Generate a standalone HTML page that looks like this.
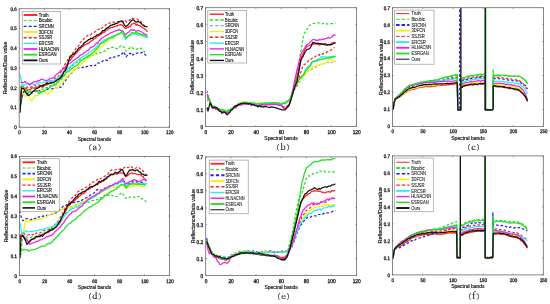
<!DOCTYPE html>
<html><head><meta charset="utf-8"><style>
html,body{margin:0;padding:0;background:#fff;width:550px;height:304px;overflow:hidden;}
svg{display:block;filter:blur(0.35px);font-family:"Liberation Sans",Arial,sans-serif;}
</style></head><body>
<svg width="550" height="304" viewBox="0 0 550 304">
<rect width="550" height="304" fill="#fff"/>
<clipPath id="c0"><rect x="19.2" y="8.75" width="150.2" height="118.5"/></clipPath>
<g clip-path="url(#c0)" fill="none" stroke-linejoin="round" stroke-width="1.25">
<path d="M20.3 100 L21.2 86.3 L22.6 86.08 L24 88 L25.12 88.85 L26.25 88.07 L27.38 90.36 L28.5 90 L29.62 89.54 L30.75 89.76 L31.88 87.93 L33 88 L34.2 88.23 L35.4 87.08 L36.6 87.09 L37.8 87.16 L39 86.3 L40.25 85.97 L41.5 86.99 L42.75 87.26 L44 86 L45.4 84.18 L46.8 85.14 L48.2 83.94 L49.6 83.2 L50.95 82.67 L52.3 82.2 L53.65 81.76 L55 81 L56.25 81.05 L57.5 79.37 L58.75 79.42 L60 78 L61.33 75.79 L62.67 72.9 L64 71 L65.25 68.19 L66.5 65.05 L67.75 63.34 L69 61 L70.2 60.2 L71.4 58.9 L72.6 56.73 L73.8 55.9 L75 54 L76.17 53.26 L77.33 52.25 L78.5 49.73 L79.67 49.57 L80.83 47.9 L82 47 L83.33 46.22 L84.67 44.8 L86 44.53 L87.33 43.48 L88.67 43.44 L90 42 L91.27 40.79 L92.53 40.49 L93.8 38.97 L95.07 38.56 L96.33 37.29 L97.6 35.85 L98.87 35.78 L100.13 34.83 L101.4 34 L102.59 32.88 L103.77 32.63 L104.96 31.73 L106.14 29.82 L107.33 29.92 L108.51 28.88 L109.7 28 L110.87 27.55 L112.04 27.57 L113.21 27.09 L114.39 26.37 L115.56 26.05 L116.73 26.13 L117.9 25.4 L119.2 24.98 L120.5 24.56 L121.8 24.8 L123.13 25.93 L124.47 27.82 L125.8 28.7 L126.95 27.66 L128.1 27.5 L129.25 26.46 L130.4 26.62 L131.55 24.18 L132.7 23.8 L133.85 23.05 L135 23.49 L136.15 25.28 L137.3 24.04 L138.45 25.62 L139.6 25.5 L140.9 26.1 L142.2 27.56 L143.5 28 L144.83 28.98 L146.17 30.4 L147.5 31.7" stroke="#ff2020"/>
<path d="M21.2 104.2 L23.3 91.6 L24.48 91.48 L25.65 91.91 L26.82 91.91 L28 92 L29.25 91.44 L30.5 91.69 L31.75 90.5 L33 91 L34.2 90.49 L35.4 91.14 L36.6 90.71 L37.8 90.68 L39 90.5 L40.2 89.74 L41.4 89.44 L42.6 89.39 L43.8 88.2 L45 88 L46.25 87.68 L47.5 87.56 L48.75 85.76 L50 86 L51.25 85.25 L52.5 85.21 L53.75 84.43 L55 84 L56.25 82.97 L57.5 82.55 L58.75 82.05 L60 81 L61.25 79.93 L62.5 77.42 L63.75 76.13 L65 75 L66.17 72.69 L67.35 71.13 L68.53 69.15 L69.7 68 L70.92 65.83 L72.15 65.62 L73.38 65.06 L74.6 63.5 L75.85 63.01 L77.1 62.43 L78.35 61.69 L79.6 59.7 L80.95 59.22 L82.3 59.13 L83.65 58.68 L85 58 L86.25 58.31 L87.5 57.38 L88.75 56.54 L90 56.4 L91.25 55.87 L92.5 54.89 L93.75 55.14 L95 54 L96.15 53.29 L97.3 53.69 L98.45 52.94 L99.6 52.42 L100.75 52.97 L101.9 52.3 L103.05 52.02 L104.2 51.22 L105.35 50.42 L106.5 49.4 L107.66 48.64 L108.82 48.58 L109.98 48.09 L111.14 47.78 L112.3 47.1 L113.45 47.69 L114.6 48.4 L115.75 48.47 L116.9 48.8 L118.05 47.35 L119.2 47.29 L120.35 45.8 L121.5 45.4 L122.63 46.03 L123.77 47.01 L124.9 47.7 L126.1 51.1 L127.25 50.1 L128.4 49.4 L129.55 48.3 L130.7 47.1 L131.84 47.99 L132.98 47.91 L134.12 49.01 L135.26 49 L136.4 49.4 L137.55 48.8 L138.7 47.85 L139.85 48.26 L141 48.2 L142.15 49.55 L143.3 50.07 L144.45 51.98 L145.6 52.8" stroke="#20e020" stroke-dasharray="2.6 2"/>
<path d="M20.1 106.3 L23.3 91.6 L24.6 92.21 L25.9 92.31 L27.2 93.46 L28.5 93.6 L29.8 93.37 L31.1 92.46 L32.4 92.73 L33.7 91.68 L35 91.6 L36.33 91.06 L37.67 90.68 L39 90.5 L40.5 91.52 L42 91.6 L43.24 91.59 L44.48 91.1 L45.72 89.71 L46.96 90.05 L48.2 88.9 L49.47 88.66 L50.73 88.73 L52 88.3 L53.35 88.64 L54.7 88.5 L55.9 87.39 L57.1 87.69 L58.3 88.33 L59.5 87.09 L60.7 87.4 L61.88 86.35 L63.06 84.3 L64.24 81.97 L65.42 80.57 L66.6 79.5 L67.9 77.62 L69.2 75 L70.5 73.6 L71.83 73.14 L73.17 71.17 L74.5 69.6 L75.68 68.75 L76.86 68.87 L78.04 67.69 L79.22 67.77 L80.4 67.6 L81.58 67.77 L82.76 67.19 L83.94 67.44 L85.12 67.68 L86.3 66.6 L87.62 66.45 L88.93 66.32 L90.25 65.6 L91.57 65.53 L92.88 66.23 L94.2 65.5 L95.48 65.42 L96.77 63.2 L98.05 63.19 L99.33 62.97 L100.62 62.51 L101.9 62 L103.05 60.6 L104.2 61.05 L105.35 60.18 L106.5 60.3 L107.66 60.32 L108.82 58.83 L109.98 57.81 L111.14 57.85 L112.3 56.9 L113.45 57.42 L114.6 56.95 L115.75 56.39 L116.9 56.31 L118.05 55.78 L119.2 55.7 L120.35 54.76 L121.5 54.11 L122.65 53.36 L123.8 51.7 L124.95 54.19 L126.1 56.9 L127.23 55.4 L128.37 55.15 L129.5 53.4 L130.66 53.81 L131.82 52.94 L132.98 55.05 L134.14 54.13 L135.3 54 L136.43 53.02 L137.57 53.07 L138.7 52.8 L139.87 52.9 L141.03 52.83 L142.2 52.3 L143.35 53.1 L144.5 54.06 L145.65 55.21 L146.8 55.7" stroke="#2020ff" stroke-dasharray="2.6 2"/>
<path d="M20.5 88 L21.2 91.6 L22.6 93.7 L24 94.22 L25.4 96.8 L26.7 95.43 L28 95.5 L29.23 97.5 L30.47 99.2 L31.7 101 L32.8 99.13 L33.9 97.93 L35 95.5 L36 95.43 L37 95.8 L38.5 94.74 L40 93 L41.45 91.85 L42.9 90.3 L44.23 90.62 L45.55 92.13 L46.88 93.63 L48.2 93.6 L49.47 92.84 L50.73 91.04 L52 91 L53.35 89.35 L54.7 88.4 L56.13 87.76 L57.57 87.13 L59 86 L60.4 83.88 L61.8 81.98 L63.2 81.79 L64.6 79.5 L65.85 77.53 L67.1 76.62 L68.35 76.25 L69.6 74.5 L70.82 73.37 L72.05 72.24 L73.28 70.97 L74.5 69.6 L75.72 68.2 L76.95 68.95 L78.18 67.42 L79.4 65.5 L80.62 64.4 L81.85 63.45 L83.08 62.17 L84.3 61.7 L85.53 60.36 L86.75 59.46 L87.97 58.52 L89.2 57.5 L90.45 57.46 L91.7 55.03 L92.95 54.9 L94.2 53.8 L95.4 52.88 L96.6 51.43 L97.8 49.7 L99 49.05 L100.2 47 L101.4 46.5 L102.68 45.82 L103.95 44.49 L105.22 42.22 L106.5 41.9 L107.67 41.42 L108.83 40.36 L110 39.5 L111.33 38.76 L112.67 38.69 L114 37.54 L115.33 36.34 L116.67 35.07 L118 35 L119.27 34.7 L120.53 33.67 L121.8 33.5 L123.13 34.72 L124.47 36.01 L125.8 37.6 L126.98 37.16 L128.16 35.34 L129.34 35.42 L130.52 34.86 L131.7 33.7 L132.89 33.86 L134.07 33.66 L135.26 33.86 L136.44 34.44 L137.63 34.4 L138.81 34.78 L140 34.5 L141.25 34.87 L142.5 36.11 L143.75 35.68 L145 36.55 L146.25 37.01 L147.5 37.6" stroke="#f2f200"/>
<path d="M20.3 95 L22.2 85.3 L23.47 85.32 L24.73 86.4 L26 87 L27.15 87.11 L28.3 87.35 L29.45 87.33 L30.6 87.4 L31.73 86.93 L32.87 86.87 L34 85 L35.23 85.55 L36.45 85.13 L37.67 84.99 L38.9 85 L40.45 85.47 L42 86.3 L43.24 84.75 L44.48 84.15 L45.72 83.37 L46.96 82.49 L48.2 81.7 L49.47 81.44 L50.73 81.17 L52 80.4 L53.2 79.36 L54.4 78.61 L55.6 78.2 L56.8 78.02 L58 77 L59.33 75.09 L60.67 72.24 L62 70 L63.1 67.96 L64.2 65 L65.3 64 L66.47 61.67 L67.65 60.14 L68.83 57.67 L70 56 L71.25 55.18 L72.5 53.67 L73.75 51.52 L75 50 L76.15 48.16 L77.3 47.61 L78.45 46.12 L79.6 44 L80.95 41.74 L82.3 41.43 L83.65 38.85 L85 37.5 L86.33 36.55 L87.67 35.41 L89 34.88 L90.33 35.02 L91.67 33.31 L93 33 L94.2 32.3 L95.4 31.66 L96.6 31.14 L97.8 29.36 L99 29.38 L100.2 29.86 L101.4 28.4 L102.63 27.52 L103.86 26.84 L105.09 25.44 L106.31 24.41 L107.54 24.57 L108.77 23.5 L110 22.8 L111.2 23 L112.4 22.04 L113.6 22.19 L114.8 21.86 L116 21.5 L117.16 21.8 L118.32 21.47 L119.48 21.82 L120.64 21.75 L121.8 21.8 L122.9 21.45 L124 20 L125.4 20.8 L126.8 22 L128.03 20.92 L129.25 20.44 L130.47 19.28 L131.7 17.9 L133.02 18.6 L134.33 18.81 L135.65 19.18 L136.97 19.12 L138.28 19.82 L139.6 19.8 L140.9 21.65 L142.2 23.32 L143.5 24.8 L145 26.26 L146.5 27.7" stroke="#ff2020" stroke-dasharray="2.6 2"/>
<path d="M20.1 74.7 L22.2 85.3 L23.63 85.76 L25.07 84.48 L26.5 84.3 L27.67 83.52 L28.83 84.02 L30 83.8 L31.25 84.42 L32.5 83.29 L33.75 84.27 L35 84.4 L36.33 84.05 L37.67 83.39 L39 82 L40.5 82.66 L42 83 L43.24 82.39 L44.48 81.98 L45.72 81.96 L46.96 81.91 L48.2 81.7 L49.5 80.66 L50.8 80.95 L52.1 80.89 L53.4 81.23 L54.7 80.5 L55.93 79.18 L57.15 78.13 L58.38 77.02 L59.6 76 L60.85 74.56 L62.1 73.94 L63.35 72.23 L64.6 71.6 L65.85 69.58 L67.1 69.72 L68.35 68.05 L69.6 67 L70.82 66.28 L72.05 65.1 L73.28 63.61 L74.5 62.7 L75.72 61.99 L76.95 60.53 L78.18 59.97 L79.4 59 L80.62 57.6 L81.85 57.68 L83.08 56.05 L84.3 55.8 L85.53 55.67 L86.75 54.25 L87.97 53.82 L89.2 52.3 L90.45 51.44 L91.7 50.46 L92.95 49.82 L94.2 48.9 L95.4 48.21 L96.6 46.73 L97.8 44.85 L99 44.27 L100.2 43.59 L101.4 42.3 L102.63 41.32 L103.86 39.92 L105.09 39.94 L106.31 38.77 L107.54 38.99 L108.77 38.33 L110 37.6 L111.32 36.46 L112.63 36.21 L113.95 36.12 L115.27 35.55 L116.58 35.06 L117.9 34.5 L119.12 34.01 L120.35 33.41 L121.58 32.5 L122.8 32.7 L124.15 36.68 L125.5 39.6 L126.75 37.94 L128 36 L129.18 35.85 L130.35 35.17 L131.52 34.4 L132.7 33.7 L133.92 33.94 L135.13 34.05 L136.35 33.87 L137.57 34.62 L138.78 35.43 L140 35 L141.25 35.17 L142.5 35.37 L143.75 36.45 L145 37.08 L146.25 37.2 L147.5 37.6" stroke="#20f0f0"/>
<path d="M20.5 82 L21.6 82.47 L22.7 82.68 L23.8 82.7 L24.9 81.5 L25.95 82.49 L27 83 L28.25 83.64 L29.5 85 L30.75 83.72 L32 83 L33.1 82.25 L34.2 81.83 L35.3 81.5 L36.65 81.83 L38 80.5 L39.5 80.59 L41 79.2 L42.5 79.26 L44 80 L45.4 80.39 L46.8 80.4 L47.87 80.24 L48.93 79.42 L50 78.5 L51.17 78.2 L52.35 78.25 L53.53 77.52 L54.7 76.5 L55.93 74.93 L57.15 73.92 L58.38 73.23 L59.6 72 L60.85 70.44 L62.1 69.98 L63.35 68.72 L64.6 67.6 L65.85 66.67 L67.1 65.79 L68.35 63.85 L69.6 63.5 L70.82 62.82 L72.05 61.65 L73.28 60.8 L74.5 59.7 L75.72 58.91 L76.95 58.15 L78.18 57.26 L79.4 56 L80.62 54.99 L81.85 54.34 L83.08 53.71 L84.3 52.8 L85.53 52.28 L86.75 50.58 L87.97 50.48 L89.2 49.3 L90.45 47.39 L91.7 47.33 L92.95 46.58 L94.2 45.9 L95.4 44.33 L96.6 42.81 L97.8 43.19 L99 40.96 L100.2 40.11 L101.4 38.3 L102.59 37.63 L103.77 37.06 L104.96 36.26 L106.14 35.27 L107.33 35.14 L108.51 34.69 L109.7 33.4 L110.87 32.74 L112.04 32.35 L113.21 31.89 L114.39 31.19 L115.56 30.91 L116.73 30.73 L117.9 30.1 L119.2 29.42 L120.5 30.57 L121.8 30.7 L123.13 31.42 L124.47 33.81 L125.8 34.6 L126.98 33.19 L128.16 32.28 L129.34 31.94 L130.52 30.06 L131.7 29.7 L133.02 30.36 L134.33 29.83 L135.65 31.14 L136.97 31.23 L138.28 30.27 L139.6 31 L140.92 31.53 L142.23 32.29 L143.55 33.18 L144.87 34.17 L146.18 34.49 L147.5 35.6" stroke="#f020f0"/>
<path d="M20.5 86 L21.75 86.59 L23 87 L24.38 87.87 L25.75 90.43 L27.12 91.46 L28.5 92.6 L29.8 91.74 L31.1 92.24 L32.4 91.7 L33.7 90.65 L35 90.9 L36.33 91.36 L37.67 91.86 L39 93.7 L40.5 92.21 L42 92 L43.24 91.27 L44.48 90.57 L45.72 89.83 L46.96 88.25 L48.2 88.3 L49.5 87.89 L50.8 86.55 L52.1 85.98 L53.4 85.57 L54.7 85.4 L55.93 85.12 L57.15 82.18 L58.38 81.22 L59.6 80 L60.85 78.36 L62.1 77.38 L63.35 76.13 L64.6 74.5 L65.85 72.8 L67.1 72.18 L68.35 71.63 L69.6 70.5 L70.82 69.18 L72.05 68.48 L73.28 67.22 L74.5 66.6 L75.72 66.04 L76.95 65.3 L78.18 64.36 L79.4 62.5 L80.62 61.12 L81.85 60.33 L83.08 59.44 L84.3 58.8 L85.53 58.2 L86.75 56.91 L87.97 56.04 L89.2 55.3 L90.45 55.09 L91.7 53.5 L92.95 52.54 L94.2 51.8 L95.4 50.21 L96.6 48.64 L97.8 47.73 L99 45.84 L100.2 44.07 L101.4 43.25 L102.63 42.91 L103.86 41.94 L105.09 40.87 L106.31 40.6 L107.54 39.45 L108.77 38.2 L110 38 L111.32 37.83 L112.63 37.75 L113.95 35.81 L115.27 35.23 L116.58 34.48 L117.9 34.2 L119.12 33.49 L120.35 33.2 L121.58 31.83 L122.8 30.7 L124.3 34.57 L125.8 37.6 L126.98 36.93 L128.16 35.81 L129.34 34.87 L130.52 33.9 L131.7 32.7 L132.89 32.85 L134.07 33.12 L135.26 32.64 L136.44 32.62 L137.63 33.26 L138.81 33.23 L140 33.5 L141.25 34.47 L142.5 34.5 L143.75 34.96 L145 35.61 L146.25 36.18 L147.5 36.6" stroke="#20e020"/>
<path d="M20.1 112.6 L21.6 88 L22.55 88.59 L23.5 88.5 L24.75 90.55 L26 93 L27.2 94.69 L28.4 95.5 L29.83 94.63 L31.27 93.46 L32.7 91.6 L33.85 90.96 L35 89.6 L36.32 88.46 L37.64 88.22 L38.96 87.56 L40.28 86.15 L41.6 85.7 L42.92 85.94 L44.24 84.95 L45.56 84.48 L46.88 83.04 L48.2 83.7 L49.5 83.04 L50.8 83.12 L52.1 82.87 L53.4 82.78 L54.7 81.7 L56.02 80.64 L57.34 79.69 L58.66 79.05 L59.98 78.13 L61.3 77.1 L62.62 74.93 L63.95 71.83 L65.27 70.79 L66.6 67.9 L68.15 63.1 L69.7 57.75 L70.88 56.67 L72.06 54.93 L73.24 54.01 L74.42 54.1 L75.6 51.8 L76.8 51.05 L78 48.97 L79.2 47.9 L80.4 47.31 L81.6 45.9 L82.73 44.88 L83.87 43.12 L85 42.4 L86.17 41.52 L87.34 40.81 L88.51 39.73 L89.69 39.5 L90.86 38.17 L92.03 38.72 L93.2 37.5 L94.37 36.78 L95.54 36.24 L96.71 35.18 L97.89 34.71 L99.06 34.22 L100.23 33.49 L101.4 32.6 L102.59 30.51 L103.77 31.02 L104.96 29.76 L106.14 28.35 L107.33 27.91 L108.51 27.39 L109.7 26 L110.87 25.14 L112.04 25.13 L113.21 24.33 L114.39 24.44 L115.56 23.32 L116.73 23.44 L117.9 22.7 L119.2 21.77 L120.5 21.41 L121.8 20.8 L123.13 22.26 L124.47 25.11 L125.8 26.7 L126.95 25.8 L128.1 24.73 L129.25 23.33 L130.4 21.9 L131.55 20.58 L132.7 19.8 L133.85 20.04 L135 21.34 L136.15 22.22 L137.3 21.4 L138.45 21.67 L139.6 22.2 L140.9 23.15 L142.2 24.64 L143.5 25.7 L144.83 26.34 L146.17 26.59 L147.5 26.7" stroke="#111111"/>
</g>
<rect x="19.2" y="8.75" width="150.2" height="118.5" fill="none" stroke="#6a6a6a" stroke-width="0.8"/>
<path d="M19.2 127.25v-1.3M19.2 8.75v1.3M44.23 127.25v-1.3M44.23 8.75v1.3M69.27 127.25v-1.3M69.27 8.75v1.3M94.3 127.25v-1.3M94.3 8.75v1.3M119.33 127.25v-1.3M119.33 8.75v1.3M144.37 127.25v-1.3M144.37 8.75v1.3M169.4 127.25v-1.3M169.4 8.75v1.3M19.2 127.25h1.3M169.4 127.25h-1.3M19.2 107.5h1.3M169.4 107.5h-1.3M19.2 87.75h1.3M169.4 87.75h-1.3M19.2 68h1.3M169.4 68h-1.3M19.2 48.25h1.3M169.4 48.25h-1.3M19.2 28.5h1.3M169.4 28.5h-1.3M19.2 8.75h1.3M169.4 8.75h-1.3" stroke="#6a6a6a" stroke-width="0.6" fill="none"/>
<g fill="#222" stroke="#222" text-rendering="geometricPrecision"><text transform="translate(19.5 134.21) scale(0.0967 0.1112)" font-size="46" text-anchor="middle" stroke="#111" stroke-width="2.5">0</text><text transform="translate(44.53 134.21) scale(0.0967 0.1112)" font-size="46" text-anchor="middle" stroke="#111" stroke-width="2.5">20</text><text transform="translate(69.57 134.21) scale(0.0967 0.1112)" font-size="46" text-anchor="middle" stroke="#111" stroke-width="2.5">40</text><text transform="translate(94.6 134.21) scale(0.0967 0.1112)" font-size="46" text-anchor="middle" stroke="#111" stroke-width="2.5">60</text><text transform="translate(119.63 134.21) scale(0.0967 0.1112)" font-size="46" text-anchor="middle" stroke="#111" stroke-width="2.5">80</text><text transform="translate(144.67 134.21) scale(0.0967 0.1112)" font-size="46" text-anchor="middle" stroke="#111" stroke-width="2.5">100</text><text transform="translate(169.7 134.21) scale(0.0967 0.1112)" font-size="46" text-anchor="middle" stroke="#111" stroke-width="2.5">120</text><text transform="translate(16.7 129.15) scale(0.0967 0.1112)" font-size="46" text-anchor="end" stroke="#111" stroke-width="2.5">0</text><text transform="translate(16.7 109.4) scale(0.0967 0.1112)" font-size="46" text-anchor="end" stroke="#111" stroke-width="2.5">0.1</text><text transform="translate(16.7 89.65) scale(0.0967 0.1112)" font-size="46" text-anchor="end" stroke="#111" stroke-width="2.5">0.2</text><text transform="translate(16.7 69.9) scale(0.0967 0.1112)" font-size="46" text-anchor="end" stroke="#111" stroke-width="2.5">0.3</text><text transform="translate(16.7 50.15) scale(0.0967 0.1112)" font-size="46" text-anchor="end" stroke="#111" stroke-width="2.5">0.4</text><text transform="translate(16.7 30.4) scale(0.0967 0.1112)" font-size="46" text-anchor="end" stroke="#111" stroke-width="2.5">0.5</text><text transform="translate(16.7 10.65) scale(0.0967 0.1112)" font-size="46" text-anchor="end" stroke="#111" stroke-width="2.5">0.6</text></g>
<text transform="translate(94.3 140.75) scale(0.1087 0.1087)" font-size="46" text-anchor="middle" stroke="#222" stroke-width="1.8" fill="#222">Spectral bands</text>
<text transform="translate(7.4 68) rotate(-90) scale(0.1109 0.1109)" font-size="46" text-anchor="middle" stroke="#222" stroke-width="1.8" fill="#222">Reflectance/Data value</text>
<rect x="22.2" y="11.5" width="38.5" height="52.5" fill="#fff" stroke="#8a8a8a" stroke-width="0.6"/>
<g fill="#111" stroke="#111" stroke-width="1.4"><path d="M23.6 15H37.4" stroke="#ff2020" stroke-width="1.9"/><text transform="translate(38.8 16.65) scale(0.0920 0.1000)" font-size="46">Truth</text><path d="M23.6 20.67H37.4" stroke="#20e020" stroke-width="1.0" stroke-dasharray="3.1 1.9"/><text transform="translate(38.8 22.32) scale(0.0920 0.1000)" font-size="46">Bicubic</text><path d="M23.6 26.34H37.4" stroke="#2020ff" stroke-width="1.4" stroke-dasharray="3.1 1.9"/><text transform="translate(38.8 27.99) scale(0.0920 0.1000)" font-size="46">SRCNN</text><path d="M23.6 32.01H37.4" stroke="#f2f200" stroke-width="1.9"/><text transform="translate(38.8 33.66) scale(0.0920 0.1000)" font-size="46">3DFCN</text><path d="M23.6 37.68H37.4" stroke="#ff2020" stroke-width="1.5" stroke-dasharray="3.1 1.9"/><text transform="translate(38.8 39.33) scale(0.0920 0.1000)" font-size="46">SSJSR</text><path d="M23.6 43.35H37.4" stroke="#20f0f0" stroke-width="1.4"/><text transform="translate(38.8 45) scale(0.0920 0.1000)" font-size="46">ERCSR</text><path d="M23.6 49.02H37.4" stroke="#f020f0" stroke-width="1.8"/><text transform="translate(38.8 50.67) scale(0.0920 0.1000)" font-size="46">HLNACNN</text><path d="M23.6 54.69H37.4" stroke="#20e020" stroke-width="1.8"/><text transform="translate(38.8 56.34) scale(0.0920 0.1000)" font-size="46">ESRGAN</text><path d="M23.6 60.36H37.4" stroke="#111111" stroke-width="1.8"/><text transform="translate(38.8 62.01) scale(0.0920 0.1000)" font-size="46">Ours</text></g>
<text transform="translate(84.5 149.8) scale(0.1)" font-size="73" letter-spacing="7.5" fill="#1a1a1a" stroke="#1a1a1a" stroke-width="1.5" font-family="'Noto Serif CJK SC',serif">（<tspan font-size="84">a</tspan>）</text>
<clipPath id="c1"><rect x="205.6" y="7.7" width="150.8" height="118.7"/></clipPath>
<g clip-path="url(#c1)" fill="none" stroke-linejoin="round" stroke-width="1.25">
<path d="M207.2 96.45 L209 99.45 L210.35 103.08 L211.7 106.65 L212.8 106.95 L213.9 107.85 L215 108.45 L216.2 108.7 L217.4 109.08 L218.6 110.66 L219.8 110.35 L221.2 109.89 L222.6 111.16 L224 111.45 L225.07 112.65 L226.13 112.9 L227.2 112.55 L228.3 112.72 L229.4 110.98 L230.5 110.45 L231.87 109.54 L233.23 108.11 L234.6 107.35 L235.95 107.13 L237.3 105.67 L238.65 104.67 L240 104.45 L241.25 104.77 L242.5 103.22 L243.75 104.09 L245 103.65 L246.25 103.38 L247.5 103.69 L248.75 103.77 L250 103.95 L251.15 104.07 L252.3 104.06 L253.45 104.03 L254.6 104.79 L255.75 104.75 L256.9 105.15 L258.13 105.43 L259.37 104.36 L260.6 105.36 L261.83 104.26 L263.07 104.39 L264.3 104.45 L265.6 104.25 L266.9 104.27 L268.2 104.45 L269.5 104.7 L270.8 104.23 L272.1 103.71 L273.4 104.38 L274.7 103.85 L276.02 103.6 L277.34 104.39 L278.66 105.2 L279.98 104.73 L281.3 105.15 L282.63 106.33 L283.97 108.2 L285.3 109.6 L286.6 107.75 L287.9 107.31 L289.2 105 L290.53 101.4 L291.87 95.98 L293.2 91.8 L297 76 L301 58 L302.16 55.71 L303.32 53.29 L304.48 50.79 L305.64 48.35 L306.8 46.6 L308 45.99 L309.2 45.5 L310.4 44.99 L311.6 44.34 L312.8 43.6 L313.98 44.13 L315.16 43.55 L316.34 43.93 L317.52 43.85 L318.7 44.6 L319.88 45.1 L321.06 43.7 L322.24 44.19 L323.42 44.13 L324.6 43.6 L325.95 43.57 L327.3 45.4 L328.65 44.44 L330 45 L331.35 43.28 L332.7 42.7 L334.05 43.26 L335.4 42.6" stroke="#ff2020"/>
<path d="M207.2 99.7 L209 98.7 L210.35 102.28 L211.7 105.9 L212.8 106.35 L213.9 106.96 L215 107.7 L216.2 107.61 L217.4 108.79 L218.6 109.5 L219.8 109.6 L221.2 109.95 L222.6 110.93 L224 110.7 L225.07 110.52 L226.13 111.6 L227.2 111.8 L228.3 110.39 L229.4 110.05 L230.5 109.7 L231.87 108.45 L233.23 106.93 L234.6 106.6 L235.95 105.87 L237.3 105.11 L238.65 104.87 L240 103.7 L241.25 103.65 L242.5 103.07 L243.75 102.13 L245 102.9 L246.25 102.8 L247.5 103.23 L248.75 103.25 L250 103.2 L251.15 102.87 L252.3 103.15 L253.45 103.36 L254.6 104.24 L255.75 104.02 L256.9 104.4 L258.13 103.81 L259.37 104.79 L260.6 104.2 L261.83 103.07 L263.07 103.75 L264.3 103.7 L265.6 102.94 L266.9 103.62 L268.2 103.7 L269.5 103.55 L270.8 103.89 L272.1 103.1 L273.4 103.06 L274.7 103.1 L276.02 103.68 L277.34 103.28 L278.66 103.19 L279.98 103.74 L281.3 104.4 L282.6 103.39 L283.9 102.74 L285.2 102.76 L286.5 101.18 L287.8 101.5 L288.87 100.27 L289.93 98.13 L291 97 L292.17 92.98 L293.33 88.61 L294.5 85 L297.9 66.8 L301.2 50 L303.2 38 L304.15 33.93 L305.1 32 L306.33 30.01 L307.57 28.23 L308.8 26 L310.2 24.89 L311.6 24.26 L313 23.5 L314.14 23.44 L315.28 23.3 L316.42 23.36 L317.56 22.85 L318.7 22.9 L320.02 23.12 L321.33 23.25 L322.65 23.85 L323.97 22.96 L325.28 23.69 L326.6 23.9 L327.86 23.82 L329.11 23.72 L330.37 23.72 L331.63 23.53 L332.89 23.61 L334.14 23.32 L335.4 23.3" stroke="#20e020" stroke-dasharray="2.6 2"/>
<path d="M207.2 90.45 L209 98.45 L210.35 102.43 L211.7 105.65 L212.8 105.9 L213.9 107.51 L215 107.45 L216.2 107.44 L217.4 108.54 L218.6 109.03 L219.8 109.35 L221.2 108.94 L222.6 109.79 L224 110.45 L225.07 111.48 L226.13 111.32 L227.2 111.55 L228.3 111.15 L229.4 109.94 L230.5 109.45 L231.87 108.58 L233.23 107.53 L234.6 106.35 L235.95 105.89 L237.3 104.63 L238.65 104.38 L240 103.45 L241.25 104.11 L242.5 102.25 L243.75 102.28 L245 102.65 L246.25 103.29 L247.5 102.59 L248.75 102.67 L250 102.95 L251.15 103.17 L252.3 103.68 L253.45 103.71 L254.6 103.21 L255.75 104.4 L256.9 104.15 L258.13 104.89 L259.37 103.21 L260.6 104.08 L261.83 104.02 L263.07 103.38 L264.3 103.45 L265.6 103.01 L266.9 103.85 L268.2 103.45 L269.5 102.97 L270.8 102.61 L272.1 103.05 L273.4 102.59 L274.7 102.85 L276.02 103.22 L277.34 103.58 L278.66 103.68 L279.98 103.48 L281.3 104.15 L282.62 103.24 L283.95 102.69 L285.28 101.54 L286.6 101.4 L287.9 100.85 L289.2 99.26 L290.5 98.4 L291.83 95.64 L293.17 93.57 L294.5 90 L295.8 88.49 L297.1 86.14 L298.4 84 L299.6 82.39 L300.8 79.67 L302 78 L303.2 76.58 L304.4 74.37 L305.6 74.07 L306.8 72.2 L308.12 70.95 L309.43 70.67 L310.75 69.89 L312.07 69.41 L313.38 68.4 L314.7 68.3 L315.88 67.39 L317.06 66.7 L318.24 65.77 L319.42 65.15 L320.6 64.3 L321.8 64.16 L323 64.35 L324.2 63.34 L325.4 63.81 L326.6 63.3 L327.86 62.34 L329.11 63.28 L330.37 62.02 L331.63 62.73 L332.89 61.58 L334.14 60.81 L335.4 61.4" stroke="#5a5aff" stroke-dasharray="2.6 2" stroke-width="0.8"/>
<path d="M207.2 99.95 L209 97.95 L210.35 101.9 L211.7 105.15 L212.8 105.3 L213.9 106.22 L215 106.95 L216.2 107.7 L217.4 108.16 L218.6 108.38 L219.8 108.85 L221.2 109.82 L222.6 109.52 L224 109.95 L225.07 109.82 L226.13 111.54 L227.2 111.05 L228.3 110.22 L229.4 110.18 L230.5 108.95 L231.87 108.51 L233.23 107.08 L234.6 105.85 L235.95 105.25 L237.3 104.14 L238.65 104.06 L240 102.95 L241.25 101.93 L242.5 102.5 L243.75 101.99 L245 102.15 L246.25 102.38 L247.5 102.19 L248.75 102.17 L250 102.45 L251.15 102.66 L252.3 102.93 L253.45 103.36 L254.6 102.89 L255.75 103.73 L256.9 103.65 L258.13 103.73 L259.37 102.44 L260.6 102.62 L261.83 103.38 L263.07 103.28 L264.3 102.95 L265.6 102.77 L266.9 103.53 L268.2 102.95 L269.5 103.57 L270.8 102.55 L272.1 102.53 L273.4 102.09 L274.7 102.35 L276.02 103.26 L277.34 102.35 L278.66 103.11 L279.98 103.63 L281.3 103.65 L282.62 103.6 L283.95 102.48 L285.28 102.56 L286.6 102 L287.9 100.75 L289.2 99.43 L290.5 98.4 L291.83 95.04 L293.17 92.08 L294.5 89 L295.8 87.2 L297.1 84.59 L298.4 82 L299.6 80.86 L300.8 79.41 L302 78 L303.2 76.13 L304.4 75.58 L305.6 73.77 L306.8 72.2 L308.12 71.21 L309.43 69.88 L310.75 69.66 L312.07 67.43 L313.38 66.26 L314.7 66.3 L315.94 66.06 L317.18 65.21 L318.41 65.29 L319.65 65.29 L320.89 64.16 L322.12 63.99 L323.36 64.22 L324.6 63.3 L325.78 63.03 L326.96 62.43 L328.14 60.59 L329.32 59.37 L330.5 58.4 L331.73 59.72 L332.95 61.18 L334.17 61.21 L335.4 62.3" stroke="#f2f200"/>
<path d="M207.2 98.2 L209 99.2 L210.35 103 L211.7 106.4 L212.8 107.01 L213.9 107.92 L215 108.2 L216.2 108.38 L217.4 109.88 L218.6 110.33 L219.8 110.1 L221.2 110.65 L222.6 110.36 L224 111.2 L225.07 111.44 L226.13 111.81 L227.2 112.3 L228.3 111.6 L229.4 110.46 L230.5 110.2 L231.87 108.55 L233.23 108.06 L234.6 107.1 L235.95 106.8 L237.3 105.32 L238.65 105.22 L240 104.2 L241.25 103.08 L242.5 103.12 L243.75 103.24 L245 103.4 L246.25 102.94 L247.5 103.69 L248.75 104.59 L250 103.7 L251.15 103.31 L252.3 103.72 L253.45 104.47 L254.6 104.54 L255.75 105.34 L256.9 104.9 L258.13 104.54 L259.37 104.65 L260.6 105.23 L261.83 104.28 L263.07 104.31 L264.3 104.2 L265.6 104.61 L266.9 104.42 L268.2 104.2 L269.5 104.78 L270.8 103.85 L272.1 104.44 L273.4 102.86 L274.7 103.6 L276.02 104.75 L277.34 103.53 L278.66 105.14 L279.98 105.45 L281.3 104.9 L282.63 106.3 L283.97 106.8 L285.3 108 L286.6 106.75 L287.9 105.14 L289.2 104 L290.53 100.19 L291.87 95.17 L293.2 92 L294.47 89.06 L295.73 87.07 L297 85 L298.5 79.89 L300 75 L301.45 70.18 L302.9 66.3 L304.08 64.51 L305.26 64.08 L306.44 62.41 L307.62 61.59 L308.8 60.4 L310.12 59.6 L311.43 58.94 L312.75 57.64 L314.07 57.73 L315.38 56.36 L316.7 55.4 L318.02 55.51 L319.33 54.48 L320.65 55.53 L321.97 54.38 L323.28 53.62 L324.6 53.5 L325.83 53.07 L327.05 51.97 L328.27 51.72 L329.5 50.95 L330.73 50.4 L331.95 48.97 L333.17 48.01 L334.4 47.5" stroke="#ff2020" stroke-dasharray="2.6 2"/>
<path d="M207.2 98.45 L209 98.45 L210.35 101.93 L211.7 105.65 L212.8 105.77 L213.9 106.38 L215 107.45 L216.2 107.1 L217.4 107.48 L218.6 109.27 L219.8 109.35 L221.2 110.27 L222.6 109.98 L224 110.45 L225.07 112.14 L226.13 111.22 L227.2 111.55 L228.3 110.88 L229.4 109.34 L230.5 109.45 L231.87 107.96 L233.23 107.74 L234.6 106.35 L235.95 105.74 L237.3 105.43 L238.65 103.99 L240 103.45 L241.25 103.35 L242.5 103.57 L243.75 102.85 L245 102.65 L246.25 102.61 L247.5 102.33 L248.75 103.06 L250 102.95 L251.15 103.63 L252.3 103.77 L253.45 103.57 L254.6 103.17 L255.75 103.82 L256.9 104.15 L258.13 104.28 L259.37 104.16 L260.6 103.65 L261.83 103.56 L263.07 103.58 L264.3 103.45 L265.6 104.26 L266.9 103.04 L268.2 103.45 L269.5 102.72 L270.8 103.67 L272.1 102.94 L273.4 102.93 L274.7 102.85 L276.02 102.39 L277.34 102.56 L278.66 103.04 L279.98 103.96 L281.3 104.15 L282.62 104.04 L283.95 102.53 L285.28 102.62 L286.6 102.4 L287.9 101.39 L289.2 100.53 L290.5 98.4 L291.83 94.68 L293.17 91.25 L294.5 87.9 L295.8 85.73 L297.1 82.19 L298.4 80 L299.55 78.78 L300.7 77.61 L301.85 76.84 L303 76 L304.27 73.56 L305.53 69.68 L306.8 68 L308 66.69 L309.2 65.73 L310.4 64.96 L311.6 62.11 L312.8 62 L314.1 61.6 L315.4 60.59 L316.7 59.99 L318 59.29 L319.3 58.95 L320.6 57.4 L321.83 56.64 L323.07 56.97 L324.3 56.74 L325.53 57.1 L326.77 57.06 L328 57.04 L329.23 56.46 L330.47 57.18 L331.7 56.15 L332.93 56.85 L334.17 56.09 L335.4 56.4" stroke="#20f0f0"/>
<path d="M207.2 93.7 L209 99.7 L210.35 103.55 L211.7 106.9 L212.8 106.97 L213.9 107.68 L215 108.7 L216.2 109.66 L217.4 109.15 L218.6 109.59 L219.8 110.6 L221.2 111.36 L222.6 111.85 L224 111.7 L225.07 112.28 L226.13 112.33 L227.2 112.8 L228.3 112.39 L229.4 111.68 L230.5 110.7 L231.87 109.64 L233.23 108.51 L234.6 107.6 L235.95 107.95 L237.3 105.4 L238.65 105.44 L240 104.7 L241.25 104.81 L242.5 103.95 L243.75 103.77 L245 103.9 L246.25 104.35 L247.5 103.89 L248.75 104.08 L250 104.2 L251.15 105.63 L252.3 104.72 L253.45 104.86 L254.6 105.27 L255.75 105 L256.9 105.4 L258.13 105.81 L259.37 105.34 L260.6 104.79 L261.83 104.77 L263.07 105.08 L264.3 104.7 L265.6 105.54 L266.9 104.79 L268.2 104.7 L269.5 104.12 L270.8 104.23 L272.1 103.91 L273.4 104.65 L274.7 104.1 L276.02 104.33 L277.34 104.49 L278.66 105 L279.98 105.08 L281.3 105.4 L282.63 107.25 L283.97 107.6 L285.3 109 L286.6 107.12 L287.9 106.49 L289.2 104 L293.2 88 L296.5 72 L300.9 54.4 L302.08 52.23 L303.26 50.27 L304.44 48.75 L305.62 46.28 L306.8 44.6 L308 44.04 L309.2 43.13 L310.4 41.93 L311.6 41.16 L312.8 39.7 L314.1 39.26 L315.4 40.34 L316.7 40.11 L318 40.5 L319.32 39.54 L320.64 39.94 L321.96 38.97 L323.28 39.62 L324.6 38.7 L325.78 38.7 L326.96 38.36 L328.14 37.09 L329.32 38.24 L330.5 37.7 L331.73 37 L332.95 35.7 L334.17 35.19 L335.4 34.7" stroke="#f020f0"/>
<path d="M207.2 101.2 L209 98.2 L210.35 101.92 L211.7 105.4 L212.8 106.28 L213.9 106.59 L215 107.2 L216.2 107.03 L217.4 108.73 L218.6 108.61 L219.8 109.1 L221.2 109.89 L222.6 109.61 L224 110.2 L225.07 110.79 L226.13 111.28 L227.2 111.3 L228.3 110.16 L229.4 111.28 L230.5 109.2 L231.87 109.49 L233.23 107.23 L234.6 106.1 L235.95 105.86 L237.3 104.63 L238.65 103.88 L240 103.2 L241.25 103.34 L242.5 102.4 L243.75 102.46 L245 102.4 L246.25 102.26 L247.5 102.69 L248.75 103.22 L250 102.7 L251.15 102.82 L252.3 103.27 L253.45 102.94 L254.6 103.12 L255.75 104.18 L256.9 103.9 L258.13 103.36 L259.37 104.65 L260.6 103.81 L261.83 102.99 L263.07 103.72 L264.3 103.2 L265.6 102.81 L266.9 103.6 L268.2 103.2 L269.5 103.32 L270.8 102.65 L272.1 102.87 L273.4 102.92 L274.7 102.6 L276.02 103.48 L277.34 102.98 L278.66 102.84 L279.98 103.95 L281.3 103.9 L282.62 103.46 L283.95 103.27 L285.28 103.93 L286.6 102.4 L287.9 100.76 L289.2 100.24 L290.5 98.4 L291.83 95.49 L293.17 90.7 L294.5 87.9 L295.8 84.84 L297.1 82.48 L298.4 80 L299.55 78.9 L300.7 77.91 L301.85 75.79 L303 75 L304.27 73.39 L305.53 71.09 L306.8 70.2 L308 68.3 L309.2 66.95 L310.4 65.66 L311.6 63.2 L312.8 61.4 L314.1 61.02 L315.4 61.3 L316.7 60.41 L318 60.53 L319.3 59.97 L320.6 59.4 L321.84 59.77 L323.08 58.4 L324.31 58.92 L325.55 58.81 L326.79 57.31 L328.02 58.29 L329.26 57.91 L330.5 57.4 L331.73 57.45 L332.95 56.74 L334.17 56.91 L335.4 56.4" stroke="#20e020"/>
<path d="M207.2 107.4 L208 111 L209.1 106.95 L210.2 103 L211.3 104.73 L212.4 108.1 L213.9 107.21 L215.4 107.4 L216.85 107.76 L218.3 109.6 L219.53 111.14 L220.77 111.44 L222 113.3 L223.15 112.56 L224.3 111.9 L225.75 113.27 L227.2 114.8 L228.7 113.43 L230.2 111.9 L231.3 109.81 L232.4 109.63 L233.5 108.01 L234.6 106.7 L235.8 105.52 L237 105.83 L238.2 104.73 L239.4 104.57 L240.6 103.7 L241.7 103.7 L242.8 103.57 L243.9 103.41 L245 103 L246.1 103.24 L247.2 103.56 L248.3 103.72 L249.4 103.7 L250.65 103.9 L251.9 104.61 L253.15 104.7 L254.4 105.09 L255.65 105.78 L256.9 105.9 L258.13 106.9 L259.37 105.63 L260.6 106.69 L261.83 106.41 L263.07 107.17 L264.3 106.7 L265.6 106.68 L266.9 106.95 L268.2 107 L269.5 107.68 L270.8 106.97 L272.1 107.1 L273.4 107.07 L274.7 107.6 L276.02 107.94 L277.34 108.27 L278.66 108.92 L279.98 109.23 L281.3 109.6 L282.63 110 L283.97 109.78 L285.3 109.6 L286.6 108.08 L287.9 106.24 L289.2 105 L290.53 100.84 L291.87 96.51 L293.2 91.8 L294.5 87.54 L295.8 84.31 L297.1 81.3 L300.9 60.4 L302.08 57.8 L303.26 56.12 L304.44 53.26 L305.62 51.49 L306.8 49.5 L308.3 49.14 L309.8 48.5 L311.3 46 L312.8 42.6 L313.98 42.56 L315.16 43.01 L316.34 43.65 L317.52 43.18 L318.7 43.6 L319.88 43.71 L321.06 43.87 L322.24 44.09 L323.42 44.22 L324.6 44.6 L325.78 44.86 L326.96 44.76 L328.14 44.51 L329.32 44.82 L330.5 44.6 L331.73 44.54 L332.95 43.77 L334.17 43.14 L335.4 42.6" stroke="#111111"/>
</g>
<rect x="205.6" y="7.7" width="150.8" height="118.7" fill="none" stroke="#6a6a6a" stroke-width="0.8"/>
<path d="M205.6 126.4v-1.3M205.6 7.7v1.3M230.73 126.4v-1.3M230.73 7.7v1.3M255.87 126.4v-1.3M255.87 7.7v1.3M281 126.4v-1.3M281 7.7v1.3M306.13 126.4v-1.3M306.13 7.7v1.3M331.27 126.4v-1.3M331.27 7.7v1.3M356.4 126.4v-1.3M356.4 7.7v1.3M205.6 126.4h1.3M356.4 126.4h-1.3M205.6 109.44h1.3M356.4 109.44h-1.3M205.6 92.49h1.3M356.4 92.49h-1.3M205.6 75.53h1.3M356.4 75.53h-1.3M205.6 58.57h1.3M356.4 58.57h-1.3M205.6 41.61h1.3M356.4 41.61h-1.3M205.6 24.66h1.3M356.4 24.66h-1.3M205.6 7.7h1.3M356.4 7.7h-1.3" stroke="#6a6a6a" stroke-width="0.6" fill="none"/>
<g fill="#222" stroke="#222" text-rendering="geometricPrecision"><text transform="translate(205.9 133.65) scale(0.1043 0.1200)" font-size="46" text-anchor="middle" stroke="#111" stroke-width="2.5">0</text><text transform="translate(231.03 133.65) scale(0.1043 0.1200)" font-size="46" text-anchor="middle" stroke="#111" stroke-width="2.5">20</text><text transform="translate(256.17 133.65) scale(0.1043 0.1200)" font-size="46" text-anchor="middle" stroke="#111" stroke-width="2.5">40</text><text transform="translate(281.3 133.65) scale(0.1043 0.1200)" font-size="46" text-anchor="middle" stroke="#111" stroke-width="2.5">60</text><text transform="translate(306.43 133.65) scale(0.1043 0.1200)" font-size="46" text-anchor="middle" stroke="#111" stroke-width="2.5">80</text><text transform="translate(331.57 133.65) scale(0.1043 0.1200)" font-size="46" text-anchor="middle" stroke="#111" stroke-width="2.5">100</text><text transform="translate(356.7 133.65) scale(0.1043 0.1200)" font-size="46" text-anchor="middle" stroke="#111" stroke-width="2.5">120</text><text transform="translate(203.1 128.9) scale(0.1043 0.1200)" font-size="46" text-anchor="end" stroke="#111" stroke-width="2.5">0</text><text transform="translate(203.1 111.94) scale(0.1043 0.1200)" font-size="46" text-anchor="end" stroke="#111" stroke-width="2.5">0.1</text><text transform="translate(203.1 94.99) scale(0.1043 0.1200)" font-size="46" text-anchor="end" stroke="#111" stroke-width="2.5">0.2</text><text transform="translate(203.1 78.03) scale(0.1043 0.1200)" font-size="46" text-anchor="end" stroke="#111" stroke-width="2.5">0.3</text><text transform="translate(203.1 61.07) scale(0.1043 0.1200)" font-size="46" text-anchor="end" stroke="#111" stroke-width="2.5">0.4</text><text transform="translate(203.1 44.11) scale(0.1043 0.1200)" font-size="46" text-anchor="end" stroke="#111" stroke-width="2.5">0.5</text><text transform="translate(203.1 27.16) scale(0.1043 0.1200)" font-size="46" text-anchor="end" stroke="#111" stroke-width="2.5">0.6</text><text transform="translate(203.1 10.2) scale(0.1043 0.1200)" font-size="46" text-anchor="end" stroke="#111" stroke-width="2.5">0.7</text></g>
<text transform="translate(281 139.9) scale(0.1087 0.1087)" font-size="46" text-anchor="middle" stroke="#222" stroke-width="1.8" fill="#222">Spectral bands</text>
<text transform="translate(194.4 67.05) rotate(-90) scale(0.1141 0.1141)" font-size="46" text-anchor="middle" stroke="#222" stroke-width="1.8" fill="#222">Reflectance/Data value</text>
<rect x="207.8" y="10.5" width="38.6" height="52.5" fill="#fff" stroke="#8a8a8a" stroke-width="0.6"/>
<g fill="#111" stroke="#111" stroke-width="1.1"><path d="M209.75 14.2H224" stroke="#ff2020" stroke-width="1.4"/><text transform="translate(225 15.85) scale(0.0860 0.1000)" font-size="46">Truth</text><path d="M209.75 19.98H224" stroke="#20e020" stroke-width="1.4" stroke-dasharray="3.2 2.2"/><text transform="translate(225 21.63) scale(0.0860 0.1000)" font-size="46">Bicubic</text><path d="M209.75 25.76H224" stroke="#5a5aff" stroke-width="0.8" stroke-dasharray="3.2 2.2"/><text transform="translate(225 27.41) scale(0.0860 0.1000)" font-size="46">SRCNN</text><path d="M209.75 31.54H224" stroke="#f2f200" stroke-width="1.4"/><text transform="translate(225 33.19) scale(0.0860 0.1000)" font-size="46">3DFCN</text><path d="M209.75 37.32H224" stroke="#ff2020" stroke-width="1.4" stroke-dasharray="3.2 2.2"/><text transform="translate(225 38.97) scale(0.0860 0.1000)" font-size="46">SSJSR</text><path d="M209.75 43.1H224" stroke="#20f0f0" stroke-width="1.4"/><text transform="translate(225 44.75) scale(0.0860 0.1000)" font-size="46">ERCSR</text><path d="M209.75 48.88H224" stroke="#f020f0" stroke-width="1.4"/><text transform="translate(225 50.53) scale(0.0860 0.1000)" font-size="46">HLNACNN</text><path d="M209.75 54.66H224" stroke="#20e020" stroke-width="1.4"/><text transform="translate(225 56.31) scale(0.0860 0.1000)" font-size="46">ESRGAN</text><path d="M209.75 60.44H224" stroke="#111111" stroke-width="1.4"/><text transform="translate(225 62.09) scale(0.0860 0.1000)" font-size="46">Ours</text></g>
<text transform="translate(272.3 149.8) scale(0.1)" font-size="73" letter-spacing="7.5" fill="#1a1a1a" stroke="#1a1a1a" stroke-width="1.5" font-family="'Noto Serif CJK SC',serif">（<tspan font-size="84">b</tspan>）</text>
<clipPath id="c2"><rect x="392.5" y="7.7" width="150.9" height="118.7"/></clipPath>
<g clip-path="url(#c2)" fill="none" stroke-linejoin="round" stroke-width="1.25">
<path d="M393.2 109.4 L394 103 L395.3 99.18 L396.4 98.43 L397.5 98.38 L398.6 97.43 L399.7 97.07 L400.8 96.42 L401.9 95.58 L403 94.64 L404.1 93.87 L405.2 93 L406.27 92.25 L407.33 91.43 L408.4 90.57 L409.65 90.43 L410.9 89.7 L412.15 89.63 L413.4 89.16 L414.62 89.18 L415.85 88.76 L417.07 87.89 L418.3 87.76 L419.62 87.38 L420.94 87.25 L422.26 87.12 L423.58 86.84 L424.9 86.58 L426 86.12 L427.1 86.75 L428.2 86.51 L429.3 86.54 L430.4 86.55 L431.5 86.27 L432.62 86.38 L433.75 86.02 L434.88 85.98 L436 86.05 L437.35 85.2 L438.7 85.72 L440.05 85.34 L441.4 85.28 L442.55 85.18 L443.7 85.05 L444.85 85.15 L446 84.85 L447.33 84.57 L448.67 84.82 L450 84.45 L451.33 84.39 L452.67 84.42 L454 84.05 L455.1 84.06 L456.2 83.5 L457.3 83.7 L457.8 109.8 L459.3 110.12 L460.8 109.8 L460.9 87.8 L461 87.8 L462 87.45 L463 86.6 L464.5 86.13 L466 85.6 L467.33 85.69 L468.67 85.24 L470 84.9 L471.25 84.94 L472.5 85.01 L473.75 84.89 L475 84.4 L476.25 84.4 L477.5 84.87 L478.75 83.76 L480 84.1 L481.1 83.92 L482.2 84.06 L483.3 84.07 L484.4 83.9 L485.1 83.9 L485.3 109.8 L486.52 109.98 L487.73 110.34 L488.95 109.83 L490.17 109.51 L491.38 109.86 L492.6 109.8 L493.2 108.8 L493.2 86.5 L494.6 86.4 L496 86.6 L497.33 86.87 L498.67 86.56 L500 86.8 L501.5 86.96 L503 87.3 L504.33 87.55 L505.67 87.54 L507 88 L508.33 88.18 L509.67 88.74 L511 88.7 L512.5 88.7 L514 89.3 L515.25 89.61 L516.5 89.59 L517.75 90.4 L519 90.5 L520.33 91.63 L521.67 93.02 L523 94 L524.25 95.52 L525.5 97 L526.5 99.16 L527.5 101.5" stroke="#ff2020"/>
<path d="M393.2 109.4 L394 103 L395.3 98.7 L396.4 97.58 L397.5 96.36 L398.6 95.75 L399.7 94.58 L400.8 93.78 L401.9 92.7 L403 91.43 L404.1 89.94 L405.2 89 L406.27 88.25 L407.33 87.5 L408.4 86.43 L409.65 85.91 L410.9 85.97 L412.15 85.07 L413.4 84.84 L414.62 84.23 L415.85 83.95 L417.07 83.42 L418.3 83.24 L419.62 83.37 L420.94 82.74 L422.26 82.5 L423.58 82.19 L424.9 81.82 L426 81.76 L427.1 80.94 L428.2 81.6 L429.3 80.9 L430.4 81.33 L431.5 81.2 L432.62 80.98 L433.75 80.87 L434.88 80.41 L436 80.34 L437.35 79.95 L438.7 79.47 L440.05 79.37 L441.4 78.8 L442.55 78.12 L443.7 78.68 L444.85 78 L446 77.72 L447.33 77.44 L448.67 77.21 L450 76.75 L451.33 76.38 L452.67 76.11 L454 75.78 L455.1 75.28 L456.2 75.37 L457.3 75 L457.8 109.8 L459.3 109.69 L460.8 109.8 L460.9 79.7 L461 79.7 L462 78.23 L463 78.4 L464.5 78.02 L466 77.26 L467.33 76.95 L468.67 76.59 L470 76.37 L471.25 76.03 L472.5 75.97 L473.75 75.83 L475 75.63 L476.25 75.41 L477.5 75.71 L478.75 74.62 L480 75.09 L481.1 75.1 L482.2 74.75 L483.3 74.76 L484.4 74.7 L485.1 74.7 L485.3 109.8 L486.52 109.64 L487.73 110.02 L488.95 110.19 L490.17 109.74 L491.38 110.43 L492.6 109.8 L493.2 108.8 L493.2 75.98 L494.6 76.07 L496 75.74 L497.33 75.9 L498.67 75.71 L500 75.47 L501.5 75.86 L503 75.61 L504.33 75.76 L505.67 75.54 L507 75.83 L508.33 76.07 L509.67 76.02 L511 76.06 L512.5 76.27 L514 76.3 L515.25 76.13 L516.5 76.25 L517.75 76.48 L519 76.39 L520.33 77.34 L521.67 78.02 L523 79 L524.25 80.03 L525.5 80.89 L526.5 82.67 L527.5 84.5" stroke="#20e020" stroke-dasharray="2.6 2"/>
<path d="M393.2 109.4 L394 103 L395.3 98.82 L396.4 98.13 L397.5 96.95 L398.6 96.17 L399.7 95.5 L400.8 94.58 L401.9 93.42 L403 92.59 L404.1 91.34 L405.2 90 L406.27 88.94 L407.33 88.39 L408.4 87.43 L409.65 87.2 L410.9 86.45 L412.15 86.59 L413.4 85.84 L414.62 85.47 L415.85 85.03 L417.07 84.06 L418.3 84.24 L419.62 83.82 L420.94 83.8 L422.26 83.59 L423.58 83.48 L424.9 82.82 L426 82.64 L427.1 82.53 L428.2 82.59 L429.3 82.49 L430.4 82.4 L431.5 82.23 L432.62 81.71 L433.75 82.26 L434.88 81.93 L436 81.63 L437.35 81.38 L438.7 80.77 L440.05 80.61 L441.4 80.4 L442.55 80.81 L443.7 80.23 L444.85 79.53 L446 79.58 L447.33 79.13 L448.67 79.22 L450 78.84 L451.33 78.68 L452.67 78.1 L454 78.1 L455.1 77.8 L456.2 77.6 L457.3 77.5 L457.8 109.8 L458.75 109.48 L459.7 109.8 L459.7 -5 L459.8 -5 L459.8 81.8 L461 81.8 L462 81.11 L463 80.53 L464.5 79.57 L466 79.43 L467.33 79.44 L468.67 78.85 L470 78.59 L471.25 78.49 L472.5 78.13 L473.75 78.09 L475 77.91 L476.25 77.92 L477.5 77.78 L478.75 76.92 L480 77.44 L481.1 77.53 L482.2 77.26 L483.3 76.92 L484.4 77.1 L485.1 77.1 L485.3 109.8 L486.52 109.81 L487.73 110.05 L488.95 109.58 L490.17 109.84 L491.38 109.66 L492.6 109.8 L493.2 108.8 L493.2 78.5 L494.6 78.69 L496 78.53 L497.33 78.39 L498.67 78.75 L500 78.63 L501.5 78.68 L503 79.06 L504.33 79.25 L505.67 79.18 L507 79.67 L508.33 80.08 L509.67 80.21 L511 80.27 L512.5 80.72 L514 80.8 L515.25 80.94 L516.5 80.87 L517.75 80.87 L519 81.17 L520.33 82.02 L521.67 83.47 L523 84 L524.25 85.48 L525.5 85.61 L526.5 87.31 L527.5 89" stroke="#2020ff" stroke-dasharray="2.6 2"/>
<path d="M393.2 109.4 L394 103 L395.3 99.12 L396.4 98.46 L397.5 97.99 L398.6 97.22 L399.7 96.62 L400.8 96.16 L401.9 95.22 L403 94.15 L404.1 93.97 L405.2 92.5 L406.27 91.48 L407.33 90.86 L408.4 90 L409.65 89.46 L410.9 89.63 L412.15 88.71 L413.4 88.5 L414.62 88.13 L415.85 87.75 L417.07 87.91 L418.3 87 L419.62 86.98 L420.94 86.24 L422.26 86.04 L423.58 85.97 L424.9 85.7 L426 85.75 L427.1 85.43 L428.2 85.62 L429.3 85.85 L430.4 85.45 L431.5 85.27 L432.62 85.63 L433.75 85.19 L434.88 85.22 L436 85.01 L437.35 84.36 L438.7 84.94 L440.05 84.58 L441.4 84.2 L442.55 84.11 L443.7 84.73 L444.85 83.63 L446 83.73 L447.33 82.72 L448.67 83.45 L450 83.3 L451.33 83.48 L452.67 83.29 L454 82.87 L455.1 82.76 L456.2 82.38 L457.3 82.5 L457.8 109.8 L459.3 110.22 L460.8 109.8 L460.9 86.3 L461 86.3 L462 85.66 L463 85.09 L464.5 84.28 L466 84.08 L467.33 83.95 L468.67 83.3 L470 83.36 L471.25 82.76 L472.5 82.91 L473.75 83.01 L475 82.84 L476.25 82.97 L477.5 82.09 L478.75 82.38 L480 82.52 L481.1 82.61 L482.2 82.8 L483.3 82.41 L484.4 82.3 L485.1 82.3 L485.3 109.8 L486.52 109.84 L487.73 109.69 L488.95 109.63 L490.17 109.94 L491.38 109.68 L492.6 109.8 L493.2 108.8 L493.2 85 L494.6 84.93 L496 85.04 L497.33 84.88 L498.67 85.41 L500 85.17 L501.5 85.85 L503 85.61 L504.33 85.79 L505.67 85.91 L507 86.23 L508.33 86.42 L509.67 86.69 L511 86.85 L512.5 87.07 L514 87.4 L515.25 87.62 L516.5 88.23 L517.75 88.43 L519 88.5 L520.33 89.27 L521.67 91.65 L523 92.5 L524.25 94.63 L525.5 95.81 L526.5 98.06 L527.5 100.5" stroke="#f2f200"/>
<path d="M393.2 109.4 L394 103 L395.3 98.79 L396.4 97.91 L397.5 96.78 L398.6 96.05 L399.7 95.22 L400.8 94.11 L401.9 93.21 L403 91.71 L404.1 90.79 L405.2 89.69 L406.27 88.52 L407.33 87.92 L408.4 87.11 L409.65 86.36 L410.9 86.42 L412.15 85.54 L413.4 85.47 L414.62 85.48 L415.85 84.4 L417.07 84.3 L418.3 83.84 L419.62 83.43 L420.94 82.82 L422.26 82.58 L423.58 82.77 L424.9 82.36 L426 82.28 L427.1 82.15 L428.2 82.35 L429.3 81.86 L430.4 81.4 L431.5 81.73 L432.62 81.46 L433.75 81.33 L434.88 81.15 L436 81.13 L437.35 80.49 L438.7 80.83 L440.05 80.35 L441.4 79.9 L442.55 80.14 L443.7 79.26 L444.85 79.46 L446 79.08 L447.33 79.02 L448.67 78.42 L450 78.34 L451.33 78.05 L452.67 77.61 L454 77.6 L455.1 76.86 L456.2 77.26 L457.3 77 L457.8 109.8 L459.3 110.2 L460.8 109.8 L460.9 80.8 L461 80.8 L462 80.08 L463 79.52 L464.5 79 L466 78.4 L467.33 78.27 L468.67 77.89 L470 77.55 L471.25 77.43 L472.5 77.25 L473.75 76.95 L475 76.85 L476.25 76.82 L477.5 77.19 L478.75 76.07 L480 76.36 L481.1 76.27 L482.2 76.31 L483.3 76.03 L484.4 76 L485.1 76 L485.3 109.8 L486.52 109.95 L487.73 110.14 L488.95 110.03 L490.17 109.64 L491.38 109.51 L492.6 109.8 L493.2 108.8 L493.2 77.2 L494.6 77.15 L496 77.23 L497.33 77.32 L498.67 77.01 L500 77.33 L501.5 77.58 L503 77.76 L504.33 78.28 L505.67 78 L507 78.37 L508.33 78.83 L509.67 78.7 L511 78.97 L512.5 79.78 L514 79.5 L515.25 79.84 L516.5 79.94 L517.75 79.81 L519 80.31 L520.33 81.42 L521.67 82.79 L523 83.5 L524.25 84.89 L525.5 86.5 L526.5 88.67 L527.5 91" stroke="#ff2020" stroke-dasharray="2.6 2"/>
<path d="M393.2 109.4 L394 103 L395.3 98.7 L396.4 97.81 L397.5 96.48 L398.6 95.75 L399.7 95 L400.8 93.4 L401.9 92.7 L403 91.18 L404.1 90.42 L405.2 89 L406.27 87.97 L407.33 87.69 L408.4 86.5 L409.65 85.98 L410.9 85.89 L412.15 85.41 L413.4 85 L414.62 84.82 L415.85 84.27 L417.07 84.11 L418.3 83.5 L419.62 83.15 L420.94 83.03 L422.26 82.67 L423.58 82.28 L424.9 82.2 L426 82.11 L427.1 81.86 L428.2 81.73 L429.3 81.72 L430.4 81.99 L431.5 81.76 L432.62 81.37 L433.75 81.28 L434.88 81.94 L436 81.42 L437.35 81.01 L438.7 80.85 L440.05 80.34 L441.4 80.5 L442.55 80.57 L443.7 79.78 L444.85 79.74 L446 79.95 L447.33 79.49 L448.67 79.72 L450 79.44 L451.33 79.14 L452.67 79.34 L454 78.93 L455.1 78.45 L456.2 78.85 L457.3 78.5 L457.8 109.8 L459.3 109.66 L460.8 109.8 L460.9 83.2 L461 83.2 L462 82.62 L463 81.91 L464.5 81.7 L466 80.78 L467.33 80.48 L468.67 80.35 L470 79.91 L471.25 79.91 L472.5 79.91 L473.75 79.14 L475 79.19 L476.25 79.28 L477.5 79.15 L478.75 79.1 L480 78.67 L481.1 78.83 L482.2 78.27 L483.3 78.28 L484.4 78.3 L485.1 78.3 L485.3 109.8 L486.52 109.77 L487.73 109.8 L488.95 109.62 L490.17 110.14 L491.38 109.79 L492.6 109.8 L493.2 108.8 L493.2 81.49 L494.6 81.23 L496 81.41 L497.33 81.49 L498.67 81.54 L500 81.37 L501.5 81.68 L503 81.68 L504.33 81.86 L505.67 81.89 L507 82.13 L508.33 82.18 L509.67 82.94 L511 82.59 L512.5 82.75 L514 83 L515.25 83.04 L516.5 83.5 L517.75 83.62 L519 83.81 L520.33 84.63 L521.67 86.32 L523 87 L524.25 88.44 L525.5 89.72 L526.5 92.08 L527.5 94" stroke="#20f0f0"/>
<path d="M393.2 109.4 L394 103 L395.3 98.7 L396.4 97.25 L397.5 96.67 L398.6 95.75 L399.7 94.35 L400.8 94.14 L401.9 92.7 L403 91.24 L404.1 90.12 L405.2 89 L406.27 88.67 L407.33 87.1 L408.4 86.54 L409.65 85.99 L410.9 85.64 L412.15 85.49 L413.4 85.1 L414.62 84.53 L415.85 84.18 L417.07 84.09 L418.3 83.65 L419.62 83.46 L420.94 82.79 L422.26 83.25 L423.58 82.85 L424.9 82.43 L426 82.57 L427.1 82.5 L428.2 82.48 L429.3 82.56 L430.4 81.95 L431.5 82.1 L432.62 82.38 L433.75 82.42 L434.88 81.99 L436 82.08 L437.35 81.8 L438.7 81.52 L440.05 81.5 L441.4 81.56 L442.55 81.7 L443.7 81.44 L444.85 81.37 L446 81.34 L447.33 80.98 L448.67 81.2 L450 81.13 L451.33 81.26 L452.67 81.22 L454 80.91 L455.1 80.83 L456.2 80.85 L457.3 80.7 L457.8 109.8 L459.3 109.57 L460.8 109.8 L460.9 85 L461 85 L462 84.57 L463 83.76 L464.5 83 L466 82.69 L467.33 82.27 L468.67 82.21 L470 81.9 L471.25 81.34 L472.5 81.96 L473.75 81.47 L475 81.3 L476.25 81.27 L477.5 80.72 L478.75 80.68 L480 80.89 L481.1 81.3 L482.2 80.27 L483.3 80.42 L484.4 80.6 L485.1 80.6 L485.3 109.8 L486.52 109.62 L487.73 109.41 L488.95 109.53 L490.17 109.79 L491.38 109.49 L492.6 109.8 L493.2 108.8 L493.2 83.49 L494.6 83.26 L496 83.41 L497.33 83.42 L498.67 83.5 L500 83.37 L501.5 83.53 L503 83.68 L504.33 83.84 L505.67 84.53 L507 84.13 L508.33 84.33 L509.67 84.98 L511 84.59 L512.5 85.2 L514 85 L515.25 85.95 L516.5 85.75 L517.75 86.2 L519 86.37 L520.33 87.47 L521.67 88.81 L523 90 L524.25 92.08 L525.5 94.39 L526.5 97.24 L527.5 100" stroke="#f020f0"/>
<path d="M393.2 109.4 L394 103 L395.3 98.65 L396.4 97.95 L397.5 97.02 L398.6 95.55 L399.7 94.71 L400.8 93.03 L401.9 92.35 L403 91.4 L404.1 89.92 L405.2 88.5 L406.27 88.04 L407.33 86.98 L408.4 85.93 L409.65 85.1 L410.9 85.18 L412.15 84.7 L413.4 84.34 L414.62 83.92 L415.85 83.36 L417.07 83.3 L418.3 82.74 L419.62 82.5 L420.94 81.84 L422.26 82.02 L423.58 81.72 L424.9 81.32 L426 81.3 L427.1 81.11 L428.2 81.01 L429.3 80.85 L430.4 80.59 L431.5 80.7 L432.62 80.29 L433.75 80.23 L434.88 79.83 L436 79.82 L437.35 80.1 L438.7 79.05 L440.05 78.95 L441.4 78.26 L442.55 78.33 L443.7 77.79 L444.85 77.17 L446 77.16 L447.33 76.87 L448.67 76.73 L450 76.17 L451.33 75.84 L452.67 75.47 L454 75.19 L455.1 74.82 L456.2 74.86 L457.3 74.4 L457.8 109.8 L459.3 109.93 L460.8 109.8 L460.9 79.2 L461 79.2 L462 78.21 L463 77.9 L464.5 77.28 L466 76.76 L467.33 76.18 L468.67 76.44 L470 75.87 L471.25 75.6 L472.5 75.64 L473.75 75.34 L475 75.13 L476.25 74.79 L477.5 74.95 L478.75 74.35 L480 74.59 L481.1 74.19 L482.2 74.54 L483.3 74.23 L484.4 74.2 L485.7 74.2 L485.7 -5 L485.8 -5 L485.9 109.8 L487.02 109.23 L488.13 110.09 L489.25 109.63 L490.37 109.67 L491.48 109.94 L492.6 109.8 L493.2 108.8 L493.2 70 L493.2 75.48 L494.6 75.46 L496 75.27 L497.33 75.41 L498.67 75.13 L500 75.03 L501.5 75.25 L503 75.2 L504.33 75.27 L505.67 75.26 L507 75.47 L508.33 76.13 L509.67 76.27 L511 75.73 L512.5 76.31 L514 76 L515.25 75.97 L516.5 76.25 L517.75 76.06 L519 75.98 L520.33 76.53 L521.67 77.45 L523 78.5 L524.25 79.62 L525.5 80.39 L526.5 81.85 L527.5 84" stroke="#20e020"/>
<path d="M393.2 109.4 L394 103 L395.3 99 L396.4 98.67 L397.5 97.72 L398.6 96.8 L399.7 96.4 L400.8 95.31 L401.9 94.5 L403 93.52 L404.1 92.32 L405.2 91.5 L406.27 90.7 L407.33 89.59 L408.4 89 L409.65 88.62 L410.9 88.13 L412.15 87.56 L413.4 87.5 L414.62 87.45 L415.85 86.76 L417.07 86.19 L418.3 86 L419.62 85.43 L420.94 85.27 L422.26 85.4 L423.58 84.5 L424.9 84.7 L426 84.74 L427.1 84.64 L428.2 84.71 L429.3 84.15 L430.4 84.55 L431.5 84.3 L432.62 84.22 L433.75 84.17 L434.88 83.9 L436 84.3 L437.35 83.91 L438.7 83.98 L440.05 83.89 L441.4 83.8 L442.55 83.75 L443.7 83.92 L444.85 83.67 L446 83.6 L447.33 83.24 L448.67 83.63 L450 83.4 L451.33 83.47 L452.67 83.02 L454 83.2 L455.1 82.9 L456.2 82.55 L457.3 83 L457.8 109.8 L459.3 109.98 L460.8 109.8 L460.8 -5 L460.9 -5 L460.9 87.3 L461 87.3 L462 87.43 L463 86.1 L464.5 85.67 L466 85.1 L467.33 85.16 L468.67 84.75 L470 84.4 L471.25 83.98 L472.5 84.33 L473.75 84.08 L475 83.9 L476.25 84.3 L477.5 84.26 L478.75 83.53 L480 83.6 L481.1 83.49 L482.2 83.99 L483.3 83.31 L484.4 83.4 L485.1 83.4 L485.1 -5 L485.2 -5 L485.3 109.8 L486.52 109.89 L487.73 109.7 L488.95 110.15 L490.17 109.61 L491.38 109.83 L492.6 109.8 L493.2 108.8 L493.2 86 L494.6 85.7 L496 86.1 L497.33 86.03 L498.67 86.51 L500 86.3 L501.5 86.5 L503 86.8 L504.33 86.7 L505.67 87.37 L507 87.5 L508.33 88.02 L509.67 87.68 L511 88.2 L512.5 88.51 L514 88.8 L515.25 88.84 L516.5 89.46 L517.75 89.38 L519 90 L520.33 91.12 L521.67 92.39 L523 93.5 L524.25 95.18 L525.5 96.5 L526.5 98.79 L527.5 101" stroke="#111111"/>
</g>
<rect x="392.5" y="7.7" width="150.9" height="118.7" fill="none" stroke="#6a6a6a" stroke-width="0.8"/>
<path d="M392.5 126.4v-1.3M392.5 7.7v1.3M422.68 126.4v-1.3M422.68 7.7v1.3M452.86 126.4v-1.3M452.86 7.7v1.3M483.04 126.4v-1.3M483.04 7.7v1.3M513.22 126.4v-1.3M513.22 7.7v1.3M543.4 126.4v-1.3M543.4 7.7v1.3M392.5 126.4h1.3M543.4 126.4h-1.3M392.5 109.44h1.3M543.4 109.44h-1.3M392.5 92.49h1.3M543.4 92.49h-1.3M392.5 75.53h1.3M543.4 75.53h-1.3M392.5 58.57h1.3M543.4 58.57h-1.3M392.5 41.61h1.3M543.4 41.61h-1.3M392.5 24.66h1.3M543.4 24.66h-1.3M392.5 7.7h1.3M543.4 7.7h-1.3" stroke="#6a6a6a" stroke-width="0.6" fill="none"/>
<g fill="#222" stroke="#222" text-rendering="geometricPrecision"><text transform="translate(392.8 133.36) scale(0.0967 0.1112)" font-size="46" text-anchor="middle" stroke="#111" stroke-width="2.5">0</text><text transform="translate(422.98 133.36) scale(0.0967 0.1112)" font-size="46" text-anchor="middle" stroke="#111" stroke-width="2.5">50</text><text transform="translate(453.16 133.36) scale(0.0967 0.1112)" font-size="46" text-anchor="middle" stroke="#111" stroke-width="2.5">100</text><text transform="translate(483.34 133.36) scale(0.0967 0.1112)" font-size="46" text-anchor="middle" stroke="#111" stroke-width="2.5">150</text><text transform="translate(513.52 133.36) scale(0.0967 0.1112)" font-size="46" text-anchor="middle" stroke="#111" stroke-width="2.5">200</text><text transform="translate(543.7 133.36) scale(0.0967 0.1112)" font-size="46" text-anchor="middle" stroke="#111" stroke-width="2.5">250</text><text transform="translate(390 128.3) scale(0.0967 0.1112)" font-size="46" text-anchor="end" stroke="#111" stroke-width="2.5">0</text><text transform="translate(390 111.34) scale(0.0967 0.1112)" font-size="46" text-anchor="end" stroke="#111" stroke-width="2.5">0.1</text><text transform="translate(390 94.39) scale(0.0967 0.1112)" font-size="46" text-anchor="end" stroke="#111" stroke-width="2.5">0.2</text><text transform="translate(390 77.43) scale(0.0967 0.1112)" font-size="46" text-anchor="end" stroke="#111" stroke-width="2.5">0.3</text><text transform="translate(390 60.47) scale(0.0967 0.1112)" font-size="46" text-anchor="end" stroke="#111" stroke-width="2.5">0.4</text><text transform="translate(390 43.51) scale(0.0967 0.1112)" font-size="46" text-anchor="end" stroke="#111" stroke-width="2.5">0.5</text><text transform="translate(390 26.56) scale(0.0967 0.1112)" font-size="46" text-anchor="end" stroke="#111" stroke-width="2.5">0.6</text><text transform="translate(390 9.6) scale(0.0967 0.1112)" font-size="46" text-anchor="end" stroke="#111" stroke-width="2.5">0.7</text></g>
<text transform="translate(467.95 139.9) scale(0.1087 0.1087)" font-size="46" text-anchor="middle" stroke="#222" stroke-width="1.8" fill="#222">Spectral bands</text>
<text transform="translate(382.5 67.05) rotate(-90) scale(0.1185 0.1185)" font-size="46" text-anchor="middle" stroke="#222" stroke-width="1.8" fill="#222">Reflectance/Data value</text>
<rect x="394.5" y="10.1" width="39.5" height="54.1" fill="#fff" stroke="#8a8a8a" stroke-width="0.6"/>
<g fill="#111" stroke="#111" stroke-width="0.7"><path d="M396.1 13.6H409.4" stroke="#ff2020" stroke-width="1.0"/><text transform="translate(411.4 15.25) scale(0.0900 0.1000)" font-size="46">Truth</text><path d="M396.1 19.3H409.4" stroke="#20e020" stroke-width="1.0" stroke-dasharray="3.5 2"/><text transform="translate(411.4 20.95) scale(0.0900 0.1000)" font-size="46">Bicubic</text><path d="M396.1 25H409.4" stroke="#2020ff" stroke-width="1.8" stroke-dasharray="3.5 2"/><text transform="translate(411.4 26.65) scale(0.0900 0.1000)" font-size="46">SRCNN</text><path d="M396.1 30.7H409.4" stroke="#f2f200" stroke-width="1.8"/><text transform="translate(411.4 32.35) scale(0.0900 0.1000)" font-size="46">3DFCN</text><path d="M396.1 36.4H409.4" stroke="#ff2020" stroke-width="1.0" stroke-dasharray="3.5 2"/><text transform="translate(411.4 38.05) scale(0.0900 0.1000)" font-size="46">SSJSR</text><path d="M396.1 42.1H409.4" stroke="#20f0f0" stroke-width="1.8"/><text transform="translate(411.4 43.75) scale(0.0900 0.1000)" font-size="46">ERCSR</text><path d="M396.1 47.8H409.4" stroke="#f020f0" stroke-width="1.8"/><text transform="translate(411.4 49.45) scale(0.0900 0.1000)" font-size="46">HLNACNN</text><path d="M396.1 53.5H409.4" stroke="#20e020" stroke-width="1.8"/><text transform="translate(411.4 55.15) scale(0.0900 0.1000)" font-size="46">ESRGAN</text><path d="M396.1 59.2H409.4" stroke="#111111" stroke-width="1.0"/><text transform="translate(411.4 60.85) scale(0.0900 0.1000)" font-size="46">Ours</text></g>
<text transform="translate(463.3 149.8) scale(0.1)" font-size="73" letter-spacing="7.5" fill="#1a1a1a" stroke="#1a1a1a" stroke-width="1.5" font-family="'Noto Serif CJK SC',serif">（<tspan font-size="84">c</tspan>）</text>
<clipPath id="c3"><rect x="19.4" y="156.4" width="150.2" height="119.2"/></clipPath>
<g clip-path="url(#c3)" fill="none" stroke-linejoin="round" stroke-width="1.25">
<path d="M20.2 240 L21 234.6 L22.45 235.68 L23.9 236.6 L25.23 238.37 L26.57 239.27 L27.9 241.5 L29.17 241.27 L30.45 240.28 L31.73 239.1 L33 239 L34.17 238.91 L35.35 237.22 L36.53 237.31 L37.7 236.6 L39.02 236.06 L40.33 235.38 L41.65 234.9 L42.97 233.99 L44.28 234.22 L45.6 233 L46.75 232.47 L47.9 232.67 L49.05 231.67 L50.2 230.92 L51.35 230.28 L52.5 229.7 L53.73 228.92 L54.97 227.84 L56.2 226.05 L57.43 224.54 L58.67 224.47 L59.9 223 L61.22 220.5 L62.53 217.74 L63.85 214.18 L65.17 211.78 L66.48 209.75 L67.8 207 L68.98 205.75 L70.16 204.48 L71.34 202.59 L72.52 202.76 L73.7 201 L74.88 200.83 L76.06 198.44 L77.24 198.53 L78.42 196.83 L79.6 196 L80.8 195.15 L82 193.42 L83.2 193.94 L84.4 192.73 L85.6 191.62 L86.8 189.38 L88 189.5 L89.17 188.45 L90.33 188.66 L91.5 187.35 L92.67 187.07 L93.83 186.05 L95 185.5 L96.25 183.97 L97.5 184.98 L98.75 183.08 L100 182.54 L101.25 181.86 L102.5 180.93 L103.75 181.03 L105 179.32 L106.25 178.44 L107.5 177.5 L108.75 176.11 L110 174.7 L111.31 173.94 L112.62 174.31 L113.93 173.73 L115.24 173.75 L116.56 174.27 L117.87 173.41 L119.18 172.96 L120.49 172.9 L121.8 172.8 L123.13 173.41 L124.47 174.92 L125.8 176.7 L126.98 175.9 L128.16 175.17 L129.34 174.03 L130.52 173.26 L131.7 172.8 L133.02 173.66 L134.33 173.5 L135.65 173.71 L136.97 174.29 L138.28 174.39 L139.6 174.7 L140.75 174.7 L141.9 176.16 L143.05 176.34 L144.2 178.68 L145.35 179.5 L146.5 180.6" stroke="#ff2020"/>
<path d="M21 255.3 L22.5 236 L23.63 235.72 L24.77 235.88 L25.9 236.6 L27.2 237.59 L28.5 237.83 L29.8 238 L31.12 237.37 L32.43 236.91 L33.75 237.51 L35.07 237.08 L36.38 236.22 L37.7 236 L39.02 234.79 L40.33 234.74 L41.65 234.23 L42.97 233.46 L44.28 233.03 L45.6 232 L46.75 231.79 L47.9 231.12 L49.05 230.42 L50.2 229.89 L51.35 228.4 L52.5 229 L53.73 227.58 L54.97 227.08 L56.2 226.21 L57.43 225.02 L58.67 224.37 L59.9 223 L61.12 220.82 L62.34 219.86 L63.56 216.51 L64.78 214.98 L66 213 L67.2 211.9 L68.4 211.02 L69.6 210.25 L70.8 206.76 L72 207 L73.27 206.26 L74.53 205.47 L75.8 205.21 L77.07 204.61 L78.33 203.89 L79.6 203.7 L80.82 203.19 L82.05 202.97 L83.28 203.41 L84.5 202.73 L85.72 202.79 L86.95 201.85 L88.18 202.44 L89.4 201.7 L90.8 201.17 L92.2 200.59 L93.6 200.37 L95 200 L96.25 199.92 L97.5 199.19 L98.75 199.37 L100 198 L101.2 197.64 L102.4 197.7 L103.6 197.27 L104.8 195.14 L106 196 L107.33 195.69 L108.67 195.05 L110 194.5 L111.2 194.58 L112.4 195.95 L113.6 195.45 L114.8 196.29 L116 196.5 L117.16 196.28 L118.32 195.31 L119.48 194.43 L120.64 193.48 L121.8 192.5 L123.13 194.48 L124.47 196.72 L125.8 198.4 L126.98 197.37 L128.16 197.87 L129.34 197.39 L130.52 197 L131.7 196.5 L133.02 196.84 L134.33 197.34 L135.65 196.89 L136.97 196.39 L138.28 196.8 L139.6 196.5 L140.75 197.34 L141.9 199.02 L143.05 198.92 L144.2 199.82 L145.35 201.05 L146.5 201.4" stroke="#20e020" stroke-dasharray="2.6 2"/>
<path d="M19.6 210.9 L20.55 214.4 L21.5 218 L22.9 220.8 L24.4 218.98 L25.9 218.8 L27.2 218.6 L28.5 218.73 L29.8 219.8 L31.12 219.77 L32.43 218.51 L33.75 218.76 L35.07 218.38 L36.38 218.21 L37.7 217.8 L39.02 216.67 L40.33 217.46 L41.65 216.81 L42.97 215.89 L44.28 216.46 L45.6 215.8 L46.75 215.31 L47.9 215.43 L49.05 215.02 L50.2 214.76 L51.35 214.45 L52.5 213.9 L53.88 213.49 L55.25 213.16 L56.62 212.67 L58 212 L59.16 210.55 L60.32 209.61 L61.48 208.06 L62.64 206.81 L63.8 205.6 L65.04 205.33 L66.28 205.43 L67.52 203.5 L68.76 203.91 L70 203 L71.2 202.82 L72.4 203.28 L73.6 202.39 L74.8 202.4 L76 202.75 L77.2 201.76 L78.4 201.6 L79.6 201.7 L80.9 200.49 L82.2 200.04 L83.5 199.17 L84.8 198.62 L86.1 197.73 L87.4 197.3 L88.7 196.28 L90 195.32 L91.3 194.2 L92.6 193.7 L93.92 192.94 L95.25 192.01 L96.58 189.94 L97.9 189.7 L99.2 189.45 L100.5 189.74 L101.8 190.4 L103.2 189.68 L104.6 188.2 L106 188 L107.33 187.15 L108.67 186.81 L110 186 L111.25 186.07 L112.5 185.01 L113.75 184.88 L115 184.5 L116.33 184.5 L117.65 183.38 L118.97 183.06 L120.3 182.7 L121.6 181.72 L122.9 181 L124.35 182.89 L125.8 185 L127.04 184.16 L128.28 183.94 L129.52 183.18 L130.76 182.27 L132 181.7 L133.25 181.92 L134.5 182.14 L135.75 181.87 L137 181.7 L138.25 181.94 L139.5 181.87 L140.75 182.05 L142 182.5 L143.33 182.23 L144.67 183.53 L146 184.3" stroke="#2020ff" stroke-dasharray="2.6 2"/>
<path d="M21 238 L22.45 234.23 L23.9 230.6 L25.5 219.8 L26.75 220.94 L28 222 L29.25 221.35 L30.5 220.79 L31.75 220.79 L33 220 L34.24 220.1 L35.49 219.89 L36.73 219.55 L37.97 219.41 L39.21 219.28 L40.46 218.65 L41.7 218.8 L42.89 217.94 L44.07 217.75 L45.26 217.41 L46.44 216.67 L47.63 215.65 L48.81 215.21 L50 214.5 L51.2 214.37 L52.4 213.22 L53.6 213.58 L54.8 212.03 L56 212 L57.33 211.55 L58.67 210.95 L60 211 L61.16 209.57 L62.32 209.39 L63.48 208.8 L64.64 207.44 L65.8 207.6 L66.94 207.3 L68.08 207.3 L69.22 206.96 L70.36 207.39 L71.5 207.6 L72.85 205.98 L74.2 205.86 L75.55 205.75 L76.9 205.58 L78.25 203.58 L79.6 203.7 L80.9 203.26 L82.2 201.57 L83.5 201.35 L84.8 201.02 L86.1 200.1 L87.4 199.02 L88.7 198.31 L90 197.6 L91.32 197.67 L92.64 196.63 L93.96 195.74 L95.28 194.79 L96.6 194.5 L97.92 194.23 L99.24 193.9 L100.56 193.12 L101.88 192.28 L103.2 191.7 L104.5 190.29 L105.8 190.55 L107.1 189.08 L108.4 188.72 L109.7 188.4 L111.02 186.9 L112.34 187.25 L113.66 187.6 L114.98 187.67 L116.3 187.1 L117.62 186.21 L118.94 185.95 L120.26 185.38 L121.58 184.74 L122.9 184.8 L124.2 186.67 L125.5 188.5 L126.76 187.74 L128.02 187.04 L129.28 186.45 L130.54 187.29 L131.8 186 L133.1 185.67 L134.4 185.82 L135.7 184.55 L137 185.4 L138.21 185.58 L139.43 186.16 L140.64 186.22 L141.86 186.48 L143.07 186.55 L144.29 186.24 L145.5 187" stroke="#f2f200"/>
<path d="M20.5 236 L22 233 L23.3 233.06 L24.6 234.37 L25.9 234.6 L27.2 235.24 L28.5 234.87 L29.8 234.6 L31.12 234.27 L32.43 234.92 L33.75 234.07 L35.07 234.63 L36.38 232.91 L37.7 233.6 L39.02 233.38 L40.33 232.7 L41.65 231.8 L42.97 230.84 L44.28 230.63 L45.6 229.7 L46.75 229.73 L47.9 229.81 L49.05 229.64 L50.2 228.69 L51.35 227.94 L52.5 228.7 L53.73 226.28 L54.97 224.32 L56.2 223.35 L57.43 221.74 L58.67 220.25 L59.9 218 L61.22 215.44 L62.53 213.67 L63.85 210.85 L65.17 208.28 L66.48 206.11 L67.8 203.7 L69.1 201.69 L70.4 200.47 L71.7 198.33 L73 197 L74.32 195.79 L75.64 195.14 L76.96 192.82 L78.28 191.57 L79.6 190.8 L80.8 189.42 L82 189.69 L83.2 189.05 L84.4 188.07 L85.6 187.54 L86.8 186.96 L88 186 L89.17 185.31 L90.33 183.82 L91.5 183.54 L92.67 182.04 L93.83 182.13 L95 181 L96.25 180.3 L97.5 179.41 L98.75 180.03 L100 178.98 L101.25 178.24 L102.5 177.83 L103.75 176.86 L105 176.06 L106.25 175.68 L107.5 174.75 L108.75 173.02 L110 170.8 L111.31 169.97 L112.62 170.16 L113.93 170.43 L115.24 169.99 L116.56 169.66 L117.87 170.29 L119.18 169.55 L120.49 168.9 L121.8 168.8 L123.04 168.03 L124.27 167.76 L125.51 166.78 L126.75 167.22 L127.99 167.73 L129.22 167.2 L130.46 167.61 L131.7 166.8 L132.94 167.98 L134.17 167.57 L135.41 168.59 L136.65 167.42 L137.89 167.86 L139.12 167.78 L140.36 168.92 L141.6 168.8 L142.82 170.39 L144.05 172.77 L145.28 174.3 L146.5 176.7" stroke="#ff2020" stroke-dasharray="2.6 2"/>
<path d="M20 222.8 L21.9 234.6 L23.23 232.53 L24.57 232.2 L25.9 230.6 L27.2 231.21 L28.5 231.99 L29.8 231.5 L31.12 231.18 L32.43 231.97 L33.75 230.95 L35.07 230.8 L36.38 230.87 L37.7 230.6 L39.02 229.95 L40.33 229.62 L41.65 230.07 L42.97 229.56 L44.28 229.1 L45.6 228.7 L46.75 227.93 L47.9 227.76 L49.05 228.43 L50.2 226.95 L51.35 226.78 L52.5 226.7 L53.73 225.89 L54.97 224.79 L56.2 225.16 L57.43 222.01 L58.67 222.11 L59.9 221.4 L61.12 219.91 L62.35 217.89 L63.58 217.06 L64.8 215.55 L66.03 214.39 L67.25 212.8 L68.47 211.72 L69.7 209.6 L70.94 209 L72.17 208.13 L73.41 208.45 L74.65 207.79 L75.89 206.56 L77.12 207.25 L78.36 206.36 L79.6 205.6 L80.9 204.4 L82.2 203.02 L83.5 203.72 L84.8 202.89 L86.1 202.07 L87.4 200.45 L88.7 199.81 L90 199 L91.32 198.63 L92.64 197.75 L93.96 196.32 L95.28 196.51 L96.6 195.5 L97.92 194.09 L99.24 193.55 L100.56 192.18 L101.88 191.58 L103.2 191 L104.5 190.39 L105.8 189.19 L107.1 188.17 L108.4 187.91 L109.7 187 L111.02 185.56 L112.34 185.76 L113.66 184.69 L114.98 184.39 L116.3 184 L117.53 184.07 L118.77 182.36 L120 182.5 L121.45 181.49 L122.9 179.6 L124.25 183.21 L125.6 187 L126.73 185.37 L127.87 185.01 L129 184 L130.2 184.78 L131.4 183.38 L132.6 183.65 L133.8 183.32 L135 183 L136.25 182.96 L137.5 183.35 L138.75 183.59 L140 183.5 L141.17 183.69 L142.33 184.5 L143.5 182.89 L144.67 184.29 L145.83 183.27 L147 183.8" stroke="#20f0f0"/>
<path d="M20.5 236.3 L22 234.6 L23.3 236.86 L24.6 238.12 L25.9 239.5 L27.2 240.94 L28.5 242.67 L29.8 244.4 L31.13 243.49 L32.47 243.05 L33.8 242.5 L35.1 242.35 L36.4 241.36 L37.7 241.5 L39.02 240.43 L40.33 239.93 L41.65 239.54 L42.97 238.75 L44.28 238.53 L45.6 237.5 L46.75 236.4 L47.9 236.79 L49.05 235.99 L50.2 235.56 L51.35 235.53 L52.5 234.6 L53.73 233.47 L54.97 231.75 L56.2 230.8 L57.43 229.44 L58.67 228.43 L59.9 227.3 L61.12 225.63 L62.35 224.14 L63.58 222.93 L64.8 220.83 L66.03 218.68 L67.25 217.79 L68.47 215.46 L69.7 214.5 L70.94 213.5 L72.17 212.28 L73.41 211.52 L74.65 211.21 L75.89 211.12 L77.12 209.84 L78.36 208.05 L79.6 207.6 L80.9 206.43 L82.2 206.11 L83.5 203.78 L84.8 202.35 L86.1 201.59 L87.4 200.05 L88.7 199.43 L90 198.3 L91.32 197.23 L92.64 196.55 L93.96 196.16 L95.28 195.32 L96.6 194.3 L97.92 193.14 L99.24 193.17 L100.56 190.47 L101.88 190.68 L103.2 189.7 L104.5 188.81 L105.8 188.06 L107.1 188.05 L108.4 186.39 L109.7 185.8 L111.02 185.53 L112.34 185.43 L113.66 184.71 L114.98 183.06 L116.3 183.2 L117.53 183.03 L118.77 181.36 L120 181.2 L121.45 179.77 L122.9 178.5 L124.2 181.2 L125.5 183.8 L126.9 183.22 L128.3 182.4 L129.7 181.7 L131.13 181.47 L132.57 180.34 L134 179.6 L135.25 180.08 L136.5 180.26 L137.75 181.65 L139 181.7 L140.1 181.03 L141.2 180.8 L142.3 179.79 L143.4 179.6 L144.47 178.99 L145.53 180.97 L146.6 181.2" stroke="#f020f0"/>
<path d="M21 251.4 L22.45 249.96 L23.9 249.4 L25.08 250 L26.26 249.99 L27.44 249.64 L28.62 251.19 L29.8 250.4 L31.12 249.79 L32.43 249.83 L33.75 249.74 L35.07 249.32 L36.38 248.71 L37.7 248.4 L39.02 247.38 L40.33 246.82 L41.65 246.3 L42.97 245.99 L44.28 246.26 L45.6 245.4 L46.75 244.43 L47.9 243.55 L49.05 243.45 L50.2 243.62 L51.35 242.41 L52.5 241.5 L53.73 239.66 L54.97 238.89 L56.2 237.53 L57.43 236.42 L58.67 234.74 L59.9 233.3 L61.12 232.31 L62.35 230.78 L63.58 230.05 L64.8 228.28 L66.03 226.85 L67.25 225.45 L68.47 224.07 L69.7 223.4 L70.94 222.42 L72.17 221.25 L73.41 220.41 L74.65 219.8 L75.89 219.07 L77.12 217.17 L78.36 216.26 L79.6 215.5 L80.9 214.59 L82.2 213.14 L83.5 212.03 L84.8 210.71 L86.1 209.52 L87.4 208.8 L88.7 207.8 L90 206.8 L91.32 206.95 L92.64 205.07 L93.96 204.49 L95.28 203.84 L96.6 202.9 L97.92 202.5 L99.24 200.77 L100.56 199.23 L101.88 199.14 L103.2 197.6 L104.5 195.61 L105.8 195.74 L107.1 194.46 L108.4 193.35 L109.7 192.4 L111.02 191.59 L112.34 190.91 L113.66 190.46 L114.98 189.37 L116.3 189.1 L117.53 187.6 L118.77 187.12 L120 185.8 L121.13 184.7 L122.27 184.93 L123.4 184.8 L124.7 185.81 L126 188 L127.23 186.41 L128.47 185.6 L129.7 183.8 L130.92 183.98 L132.13 184.21 L133.35 183.86 L134.57 183.97 L135.78 184.23 L137 183.8 L138.21 184.31 L139.43 183.9 L140.64 184.34 L141.86 184.57 L143.07 184.08 L144.29 184.78 L145.5 184.8" stroke="#20e020"/>
<path d="M20 258.3 L21 236.6 L21.95 236.21 L22.9 235.6 L24.23 238.14 L25.57 240.64 L26.9 244.4 L28.35 242.81 L29.8 241.5 L31.12 239.84 L32.43 239.24 L33.75 238.67 L35.07 238.2 L36.38 236.25 L37.7 236.6 L38.88 236.31 L40.06 236.51 L41.24 235.24 L42.42 236.31 L43.6 234.6 L44.88 233.38 L46.16 232.95 L47.44 232.08 L48.72 231.16 L50 230.3 L51.18 229.84 L52.36 229.84 L53.54 228.55 L54.72 228.03 L55.9 227.3 L57.23 225.84 L58.57 223.01 L59.9 221.4 L61.2 218.88 L62.5 215.71 L63.8 213.5 L65.13 210.18 L66.47 207.96 L67.8 205.6 L68.98 203.74 L70.16 203.95 L71.34 202.03 L72.52 201.28 L73.7 199.7 L74.88 198.3 L76.06 196.95 L77.24 196.96 L78.42 194.09 L79.6 193.8 L80.78 193.32 L81.96 192.07 L83.14 191.97 L84.32 191.3 L85.5 190.8 L86.62 189.96 L87.75 189.29 L88.88 187.81 L90 187.1 L91.32 186.31 L92.64 186.51 L93.96 186.08 L95.28 184.99 L96.6 184.5 L97.92 182.89 L99.24 181.14 L100.56 182.34 L101.88 180.6 L103.2 180.5 L104.5 179.04 L105.8 179.16 L107.1 177.08 L108.4 176.5 L109.7 175.9 L111.02 174.55 L112.34 174.51 L113.66 174.51 L114.98 172.42 L116.3 172.6 L117.52 173.29 L118.74 171.93 L119.96 171.27 L121.18 169.54 L122.4 169.6 L123.95 172.74 L125.5 175.9 L126.57 175.18 L127.63 173.17 L128.7 171.2 L130.1 169.88 L131.5 170.03 L132.9 169.6 L134.13 170.43 L135.37 170.8 L136.6 170.05 L137.83 170.24 L139.07 171.89 L140.3 172.2 L141.7 174.21 L143.1 174.16 L144.5 175.4 L146.05 175.13 L147.6 174.8" stroke="#111111"/>
</g>
<rect x="19.4" y="156.4" width="150.2" height="119.2" fill="none" stroke="#6a6a6a" stroke-width="0.8"/>
<path d="M19.4 275.6v-1.3M19.4 156.4v1.3M44.43 275.6v-1.3M44.43 156.4v1.3M69.47 275.6v-1.3M69.47 156.4v1.3M94.5 275.6v-1.3M94.5 156.4v1.3M119.53 275.6v-1.3M119.53 156.4v1.3M144.57 275.6v-1.3M144.57 156.4v1.3M169.6 275.6v-1.3M169.6 156.4v1.3M19.4 275.6h1.3M169.6 275.6h-1.3M19.4 255.73h1.3M169.6 255.73h-1.3M19.4 235.87h1.3M169.6 235.87h-1.3M19.4 216h1.3M169.6 216h-1.3M19.4 196.13h1.3M169.6 196.13h-1.3M19.4 176.27h1.3M169.6 176.27h-1.3M19.4 156.4h1.3M169.6 156.4h-1.3" stroke="#6a6a6a" stroke-width="0.6" fill="none"/>
<g fill="#222" stroke="#222" text-rendering="geometricPrecision"><text transform="translate(19.7 282.56) scale(0.0967 0.1112)" font-size="46" text-anchor="middle" stroke="#111" stroke-width="2.5">0</text><text transform="translate(44.73 282.56) scale(0.0967 0.1112)" font-size="46" text-anchor="middle" stroke="#111" stroke-width="2.5">20</text><text transform="translate(69.77 282.56) scale(0.0967 0.1112)" font-size="46" text-anchor="middle" stroke="#111" stroke-width="2.5">40</text><text transform="translate(94.8 282.56) scale(0.0967 0.1112)" font-size="46" text-anchor="middle" stroke="#111" stroke-width="2.5">60</text><text transform="translate(119.83 282.56) scale(0.0967 0.1112)" font-size="46" text-anchor="middle" stroke="#111" stroke-width="2.5">80</text><text transform="translate(144.87 282.56) scale(0.0967 0.1112)" font-size="46" text-anchor="middle" stroke="#111" stroke-width="2.5">100</text><text transform="translate(169.9 282.56) scale(0.0967 0.1112)" font-size="46" text-anchor="middle" stroke="#111" stroke-width="2.5">120</text><text transform="translate(16.9 277.5) scale(0.0967 0.1112)" font-size="46" text-anchor="end" stroke="#111" stroke-width="2.5">0</text><text transform="translate(16.9 257.63) scale(0.0967 0.1112)" font-size="46" text-anchor="end" stroke="#111" stroke-width="2.5">0.1</text><text transform="translate(16.9 237.77) scale(0.0967 0.1112)" font-size="46" text-anchor="end" stroke="#111" stroke-width="2.5">0.2</text><text transform="translate(16.9 217.9) scale(0.0967 0.1112)" font-size="46" text-anchor="end" stroke="#111" stroke-width="2.5">0.3</text><text transform="translate(16.9 198.03) scale(0.0967 0.1112)" font-size="46" text-anchor="end" stroke="#111" stroke-width="2.5">0.4</text><text transform="translate(16.9 178.17) scale(0.0967 0.1112)" font-size="46" text-anchor="end" stroke="#111" stroke-width="2.5">0.5</text><text transform="translate(16.9 158.3) scale(0.0967 0.1112)" font-size="46" text-anchor="end" stroke="#111" stroke-width="2.5">0.6</text></g>
<text transform="translate(94.5 289.1) scale(0.1087 0.1087)" font-size="46" text-anchor="middle" stroke="#222" stroke-width="1.8" fill="#222">Spectral bands</text>
<text transform="translate(7.6 216) rotate(-90) scale(0.1109 0.1109)" font-size="46" text-anchor="middle" stroke="#222" stroke-width="1.8" fill="#222">Reflectance/Data value</text>
<rect x="20.75" y="158.75" width="38.5" height="52.5" fill="#fff" stroke="#8a8a8a" stroke-width="0.6"/>
<g fill="#111" stroke="#111" stroke-width="1.4"><path d="M22.5 162.3H35" stroke="#ff2020" stroke-width="1.9"/><text transform="translate(37 163.95) scale(0.0930 0.1000)" font-size="46">Truth</text><path d="M22.5 168H35" stroke="#20e020" stroke-width="1.0" stroke-dasharray="3.1 1.9"/><text transform="translate(37 169.65) scale(0.0930 0.1000)" font-size="46">Bicubic</text><path d="M22.5 173.7H35" stroke="#2020ff" stroke-width="1.8" stroke-dasharray="3.1 1.9"/><text transform="translate(37 175.35) scale(0.0930 0.1000)" font-size="46">SRCNN</text><path d="M22.5 179.4H35" stroke="#f2f200" stroke-width="1.9"/><text transform="translate(37 181.05) scale(0.0930 0.1000)" font-size="46">3DFCN</text><path d="M22.5 185.1H35" stroke="#ff2020" stroke-width="1.4" stroke-dasharray="3.1 1.9"/><text transform="translate(37 186.75) scale(0.0930 0.1000)" font-size="46">SSJSR</text><path d="M22.5 190.8H35" stroke="#20f0f0" stroke-width="1.4"/><text transform="translate(37 192.45) scale(0.0930 0.1000)" font-size="46">ERCSR</text><path d="M22.5 196.5H35" stroke="#f020f0" stroke-width="1.8"/><text transform="translate(37 198.15) scale(0.0930 0.1000)" font-size="46">HLNACNN</text><path d="M22.5 202.2H35" stroke="#20e020" stroke-width="1.8"/><text transform="translate(37 203.85) scale(0.0930 0.1000)" font-size="46">ESRGAN</text><path d="M22.5 207.9H35" stroke="#111111" stroke-width="1.6"/><text transform="translate(37 209.55) scale(0.0930 0.1000)" font-size="46">Ours</text></g>
<text transform="translate(84.2 298.7) scale(0.1)" font-size="73" letter-spacing="7.5" fill="#1a1a1a" stroke="#1a1a1a" stroke-width="1.5" font-family="'Noto Serif CJK SC',serif">（<tspan font-size="84">d</tspan>）</text>
<clipPath id="c4"><rect x="205.7" y="156.9" width="150.7" height="118.7"/></clipPath>
<g clip-path="url(#c4)" fill="none" stroke-linejoin="round" stroke-width="1.25">
<path d="M206.6 242 L207.55 245.01 L208.5 246.5 L210.05 250.63 L211.6 254 L212.73 255.08 L213.87 255.87 L215 256.5 L216.07 257.51 L217.13 257.14 L218.2 258 L219.47 258.19 L220.73 258.56 L222 259 L223.1 259.44 L224.2 259.39 L225.3 260.43 L226.4 260 L227.6 258.74 L228.8 259.05 L230 258 L231.5 256.86 L233 256.5 L234.22 255.89 L235.45 255.72 L236.68 255.19 L237.9 254.5 L239.27 254.32 L240.63 254.07 L242 253.3 L243.16 253.58 L244.32 252.48 L245.48 253.16 L246.64 252.82 L247.8 253 L249.2 253.21 L250.6 253.62 L252 253.5 L253.4 253.29 L254.8 253.43 L256.2 253.06 L257.6 254 L258.92 254.94 L260.24 254.65 L261.56 255.44 L262.88 255.49 L264.2 254.76 L265.36 255.28 L266.52 255.21 L267.68 254.8 L268.84 255.33 L270 255.3 L271.2 255.85 L272.4 256.08 L273.6 256.38 L274.8 255 L276 256 L277.25 256.18 L278.5 256.23 L279.75 257.33 L281 257.25 L282.17 257.43 L283.33 257.33 L284.5 257.5 L285.67 256.1 L286.83 254.91 L288 254 L289.33 249.24 L290.67 244.33 L292 240 L296 220 L297.33 214.84 L298.67 210.12 L300 205 L301.5 201.67 L303 199 L304.17 197.54 L305.33 196.26 L306.5 195.3 L307.65 194.85 L308.8 193.26 L309.95 193.45 L311.1 191.8 L312.25 191.01 L313.4 191.27 L314.55 190.62 L315.7 190.93 L316.85 191.25 L318 190.7 L319.15 191.46 L320.3 191.39 L321.45 191.94 L322.6 192.45 L323.75 192.46 L324.9 193 L326.05 192.2 L327.2 192 L328.35 191.59 L329.5 191.8 L330.66 192.03 L331.82 190.5 L332.98 191.05 L334.14 190.66 L335.3 190.7" stroke="#ff2020"/>
<path d="M206.6 241 L207.55 243.08 L208.5 245.5 L210.05 249.04 L211.6 253 L212.73 254.37 L213.87 254.17 L215 255.5 L216.07 255.43 L217.13 256.29 L218.2 257 L219.47 257.04 L220.73 257.49 L222 258 L223.1 258.14 L224.2 257.51 L225.3 258.81 L226.4 259 L227.6 259.01 L228.8 258.01 L230 257 L231.5 256.74 L233 255.5 L234.22 254.54 L235.45 255.07 L236.68 254.01 L237.9 253.5 L239.27 253.75 L240.63 252.72 L242 252.3 L243.16 251.82 L244.32 252.24 L245.48 251.59 L246.64 252.18 L247.8 252 L249.2 252.35 L250.6 253.12 L252 252.5 L253.4 252.91 L254.8 253.11 L256.2 252.76 L257.6 253 L258.92 253.54 L260.24 252.71 L261.56 252.48 L262.88 252.39 L264.2 252.47 L265.36 252.6 L266.52 252.43 L267.68 252.47 L268.84 251.59 L270 251.8 L271.2 251.47 L272.4 251.92 L273.6 252.49 L274.8 252.45 L276 252 L277.25 251.86 L278.5 252.39 L279.75 252.29 L281 252 L282.17 251.89 L283.33 251.96 L284.5 252 L285.6 250.95 L286.7 251.22 L287.8 250 L289.2 245 L290.6 239.96 L292 235 L296 212 L299 198 L300.45 195.59 L301.9 193 L303.05 189.34 L304.2 186.07 L305.35 181.7 L306.5 178 L307.65 177.19 L308.8 175.63 L309.95 176.19 L311.1 175.3 L312.25 174.45 L313.4 173.4 L314.71 172.8 L316.03 172.88 L317.34 172.51 L318.66 172.33 L319.97 170.66 L321.29 171.47 L322.6 171.1 L323.88 170.83 L325.16 172.06 L326.44 171.77 L327.72 171.65 L329 172 L330.26 171.75 L331.52 172.32 L332.78 172.13 L334.04 171.8 L335.3 172.3" stroke="#20e020" stroke-dasharray="2.6 2"/>
<path d="M206.6 238.2 L207.55 242.08 L208.5 244.5 L210.05 248.59 L211.6 252 L212.73 253.5 L213.87 253.75 L215 254.5 L216.07 255.03 L217.13 255.17 L218.2 256 L219.47 256.39 L220.73 256.23 L222 257 L223.1 257.24 L224.2 257.29 L225.3 257.19 L226.4 258 L227.6 257.92 L228.8 256.68 L230 256 L231.5 254.92 L233 254.5 L234.22 253.44 L235.45 253.11 L236.68 253.32 L237.9 252.5 L239.27 251.27 L240.63 251.9 L242 251.3 L243.16 251.37 L244.32 251.56 L245.48 250.62 L246.64 251.38 L247.8 251 L249.2 251.02 L250.6 251.1 L252 251.5 L253.4 250.91 L254.8 251.27 L256.2 251.75 L257.6 252 L258.92 251.89 L260.24 251.88 L261.56 252.22 L262.88 251.82 L264.2 251.72 L265.36 251.12 L266.52 251.86 L267.68 251.72 L268.84 250.95 L270 251.3 L271.2 250.93 L272.4 250.45 L273.6 251.74 L274.8 252.77 L276 251.5 L277.25 251.62 L278.5 252.03 L279.75 251.7 L281 251.5 L282.17 250.98 L283.33 251.82 L284.5 251.5 L285.6 251.26 L286.7 251.68 L287.8 250.5 L289.2 250.25 L290.6 247.91 L292 247 L293.33 243.22 L294.67 240.55 L296 236 L297.33 232.41 L298.67 229.49 L300 226 L301.3 224.29 L302.6 223.56 L303.9 221.04 L305.2 219.89 L306.5 218.3 L307.65 217.29 L308.8 217.29 L309.95 217.65 L311.1 216.67 L312.25 215.78 L313.4 216 L314.8 215.8 L316.2 215.76 L317.6 214.36 L319 214.5 L320.18 214.37 L321.36 213.71 L322.54 214.13 L323.72 213.29 L324.9 213.7 L326.2 213.19 L327.5 212.95 L328.8 212.75 L330.1 212.08 L331.4 212.2 L332.7 211.31 L334 210.94 L335.3 210.3" stroke="#2020ff" stroke-dasharray="2.6 2"/>
<path d="M206.6 242 L207.55 242.22 L208.5 245 L210.05 248.57 L211.6 252.5 L212.73 253.64 L213.87 253.61 L215 255 L216.07 254.38 L217.13 255.2 L218.2 256.5 L219.47 257.08 L220.73 257.07 L222 257.5 L223.1 257.79 L224.2 258.09 L225.3 258.28 L226.4 258.5 L227.6 258.25 L228.8 257.13 L230 256.5 L231.5 255.82 L233 255 L234.22 253.68 L235.45 253.17 L236.68 253.06 L237.9 253 L239.27 252.19 L240.63 251.6 L242 251.8 L243.16 251.49 L244.32 251.5 L245.48 250.37 L246.64 251.82 L247.8 251.5 L249.2 251.91 L250.6 252.41 L252 252 L253.4 253.22 L254.8 251.82 L256.2 253.15 L257.6 252.5 L258.92 252.47 L260.24 252.18 L261.56 252.51 L262.88 253.04 L264.2 252.22 L265.36 251.63 L266.52 251.74 L267.68 251.23 L268.84 251.47 L270 251.8 L271.2 251.73 L272.4 251.65 L273.6 251.78 L274.8 251.36 L276 252 L277.25 252.65 L278.5 252.19 L279.75 251.59 L281 252 L282.17 251.54 L283.33 252.82 L284.5 252 L285.6 251.58 L286.7 251.7 L287.8 250.5 L289.2 248.32 L290.6 246.62 L292 245 L293.33 241.77 L294.67 236.67 L296 233 L297.33 229.39 L298.67 225.83 L300 222 L301.3 220.62 L302.6 218.92 L303.9 217.34 L305.2 214.98 L306.5 213.7 L307.65 213.17 L308.8 212.43 L309.95 210.37 L311.1 209.83 L312.25 208.88 L313.4 208 L314.72 207.41 L316.04 207.52 L317.36 206.82 L318.68 207.27 L320 206.5 L321.23 206.09 L322.45 205.19 L323.67 205.84 L324.9 204.5 L326.2 205.31 L327.5 204.54 L328.8 204.34 L330.1 205.62 L331.4 204.97 L332.7 204.86 L334 204.7 L335.3 204.5" stroke="#f2f200"/>
<path d="M206.6 243 L207.55 243.65 L208.5 246 L210.05 249.71 L211.6 253.5 L212.73 254.72 L213.87 254.79 L215 256 L216.07 257.09 L217.13 256.99 L218.2 257.5 L219.47 257.92 L220.73 258.86 L222 258.5 L223.1 258.86 L224.2 258.91 L225.3 258.67 L226.4 259.5 L227.6 258.72 L228.8 258.4 L230 257.5 L231.5 256.78 L233 256 L234.22 255.58 L235.45 254.8 L236.68 254.6 L237.9 254 L239.27 253.68 L240.63 252.69 L242 252.8 L243.16 252.77 L244.32 251.97 L245.48 252.96 L246.64 252.66 L247.8 252.5 L249.2 252.63 L250.6 252.66 L252 253 L253.4 253.37 L254.8 253.82 L256.2 253.63 L257.6 253.5 L258.92 253.76 L260.24 253.6 L261.56 253.26 L262.88 253.01 L264.2 252.71 L265.36 252.85 L266.52 252.69 L267.68 252.14 L268.84 251.93 L270 251.8 L271.2 251.51 L272.4 252.34 L273.6 251.68 L274.8 251.68 L276 252 L277.25 252.3 L278.5 252.07 L279.75 252.43 L281 252 L282.17 251.92 L283.33 252.32 L284.5 252 L285.6 251.37 L286.7 251.34 L287.8 250.5 L289.2 248.05 L290.6 246.71 L292 244 L293.33 239.95 L294.67 235.75 L296 232 L297.33 228.77 L298.67 225.82 L300 222 L301.5 217.78 L303 215 L304.17 213.89 L305.33 211.52 L306.5 210.3 L307.65 209.64 L308.8 208.47 L309.95 208.02 L311.1 206.59 L312.25 205.42 L313.4 204.5 L314.55 204.85 L315.7 203.95 L316.85 204.3 L318 203 L319.15 202.66 L320.3 202.43 L321.45 201.69 L322.6 202.5 L323.75 202.38 L324.9 202.2 L326.05 202.18 L327.2 201.06 L328.35 200.45 L329.5 198.64 L330.65 198.35 L331.8 197.6 L332.97 198.44 L334.13 199.39 L335.3 199.9" stroke="#ff2020" stroke-dasharray="2.6 2"/>
<path d="M206.6 241 L207.55 243.12 L208.5 245.2 L210.05 248.62 L211.6 252.7 L212.73 253.36 L213.87 254.17 L215 255.2 L216.07 255.8 L217.13 256.19 L218.2 256.7 L219.47 256.31 L220.73 257.27 L222 257.7 L223.1 257.36 L224.2 257.9 L225.3 257.9 L226.4 258.7 L227.6 258.19 L228.8 257.22 L230 256.7 L231.5 256.13 L233 255.2 L234.22 254.39 L235.45 254.14 L236.68 254.52 L237.9 253.2 L239.27 253.21 L240.63 252.41 L242 252 L243.16 252.11 L244.32 251.58 L245.48 251.49 L246.64 251.59 L247.8 251.7 L249.2 251.76 L250.6 251.76 L252 252.2 L253.4 251.92 L254.8 252.6 L256.2 252.57 L257.6 252.7 L258.92 252.29 L260.24 252.75 L261.56 252.1 L262.88 253.21 L264.2 252.42 L265.36 252.42 L266.52 252.51 L267.68 252.05 L268.84 252.16 L270 252 L271.2 251.26 L272.4 252.13 L273.6 252.06 L274.8 252.2 L276 252.2 L277.25 251.36 L278.5 252.14 L279.75 251.75 L281 252.2 L282.17 251.88 L283.33 252.43 L284.5 252.2 L285.6 251.91 L286.7 251.46 L287.8 250.5 L289.2 248.77 L290.6 246.58 L292 246 L293.33 242.06 L294.67 238.27 L296 234 L297.33 231.72 L298.67 227.14 L300 224 L301.3 222.5 L302.6 220.9 L303.9 219.37 L305.2 217.28 L306.5 216 L307.65 214.76 L308.8 214.06 L309.95 213.22 L311.1 213.61 L312.25 212.44 L313.4 211.4 L314.72 210.34 L316.04 210.32 L317.36 209.74 L318.68 209.87 L320 209 L321.23 210.05 L322.45 208.56 L323.67 207.96 L324.9 208 L326.2 207.75 L327.5 207.2 L328.8 205.94 L330.1 206.81 L331.4 206.95 L332.7 205.84 L334 206.07 L335.3 205.7" stroke="#20f0f0"/>
<path d="M206.6 242 L208 250 L209.5 254 L211 251 L212 253.99 L213 256 L214.5 257.17 L216 258 L217.27 260.9 L218.53 261.9 L219.8 264.5 L220.87 264.51 L221.93 263.89 L223 263 L224.25 262.72 L225.5 262.46 L226.75 263.28 L228 262.8 L229 261.19 L230 259 L231.5 257.08 L233 256 L234.22 255 L235.45 254.73 L236.68 255.31 L237.9 254.5 L239.27 254.27 L240.63 253.42 L242 253.3 L243.16 253.33 L244.32 252.99 L245.48 253.05 L246.64 252.5 L247.8 253 L249.2 252.55 L250.6 253.15 L252 253.5 L253.4 254.29 L254.8 253.92 L256.2 253.93 L257.6 254 L258.92 253.82 L260.24 254.13 L261.56 253.85 L262.88 254.27 L264.2 254.76 L265.36 254.85 L266.52 256.07 L267.68 255.58 L268.84 254.97 L270 255.3 L271.2 255.21 L272.4 256.33 L273.6 255.46 L274.8 255.25 L276 256.25 L277.25 255.65 L278.5 256.65 L279.75 258.36 L281 258.12 L282.17 258.47 L283.33 258.36 L284.5 258.5 L285.67 256.82 L286.83 256.25 L288 255 L289.33 251.76 L290.67 248.35 L292 245 L293.33 241.05 L294.67 236.24 L296 232 L297.33 227.52 L298.67 222.22 L300 218 L301.5 214.63 L303 210 L304.17 209.2 L305.33 207.82 L306.5 206.8 L307.65 205.3 L308.8 205.17 L309.95 204.39 L311.1 203.4 L312.28 203.42 L313.46 203.23 L314.64 203.41 L315.82 204.08 L317 204 L318.17 203.75 L319.33 203.81 L320.5 202.05 L321.67 202.08 L322.83 202.05 L324 201 L325.2 200.59 L326.4 199.9 L327.6 199.37 L328.8 200.06 L330 199 L331.32 198.9 L332.65 198.47 L333.98 198.22 L335.3 198.7" stroke="#f020f0"/>
<path d="M206.6 241 L207.55 243.61 L208.5 246 L210.05 249.08 L211.6 253.5 L212.73 255.34 L213.87 255.15 L215 256 L216.07 255.76 L217.13 256.11 L218.2 257.5 L219.47 257.75 L220.73 258.99 L222 258.5 L223.1 258.75 L224.2 258.46 L225.3 259.99 L226.4 259.5 L227.6 258.69 L228.8 258.36 L230 257.5 L231.5 256.63 L233 256 L234.22 255.85 L235.45 255.1 L236.68 254.05 L237.9 254 L239.27 252.48 L240.63 254.2 L242 252.8 L243.16 253.45 L244.32 253.55 L245.48 252.05 L246.64 252.29 L247.8 252.5 L249.2 251.83 L250.6 252.88 L252 253 L253.4 252.98 L254.8 253.42 L256.2 252.4 L257.6 253.5 L258.92 254.36 L260.24 254.29 L261.56 254.22 L262.88 254.43 L264.2 254.52 L265.36 254.78 L266.52 255.29 L267.68 255.4 L268.84 255.61 L270 255.3 L271.2 255.41 L272.4 255.75 L273.6 256.13 L274.8 256.53 L276 256.75 L277.25 257.01 L278.5 257.73 L279.75 258.24 L281 259.88 L282.17 259.88 L283.33 260.14 L284.5 260.5 L285.75 258.77 L287 257 L288.5 251.46 L290 246 L294 228 L297.3 212.6 L301.9 182.6 L303.05 178.8 L304.2 173.97 L305.35 170.72 L306.5 167.7 L307.65 166.95 L308.8 165.91 L309.95 165.3 L311.1 164.2 L312.25 163.05 L313.4 162 L314.55 161.32 L315.7 161.65 L316.85 161.53 L318 161.86 L319.15 160.78 L320.3 160.8 L321.61 159.85 L322.93 160.18 L324.24 159.81 L325.56 160.03 L326.87 159.52 L328.19 159.86 L329.5 159.6 L330.66 159.91 L331.82 159.65 L332.98 158.76 L334.14 158.48 L335.3 158.5" stroke="#20e020"/>
<path d="M206.6 240.6 L207.55 243.57 L208.5 246.3 L210.05 249.62 L211.6 253.8 L212.73 254.52 L213.87 254.65 L215 255.8 L216.07 256.12 L217.13 255.86 L218.2 256.8 L219.47 256.53 L220.73 257.6 L222 257.8 L223.1 257.96 L224.2 258.07 L225.3 258.42 L226.4 258.8 L227.6 258.91 L228.8 257.96 L230 257.3 L231.5 256.86 L233 256.3 L234.22 255.85 L235.45 254.71 L236.68 254.61 L237.9 254.3 L239.27 253.93 L240.63 252.65 L242 253.1 L243.16 252.68 L244.32 253.44 L245.48 252.65 L246.64 252.77 L247.8 252.8 L249.2 253.55 L250.6 252.66 L252 253.3 L253.4 252.85 L254.8 253.51 L256.2 253.95 L257.6 253.8 L258.92 252.82 L260.24 254 L261.56 254.18 L262.88 254.11 L264.2 254.82 L265.36 255.27 L266.52 254.95 L267.68 254.85 L268.84 255.9 L270 255.6 L271.2 256.04 L272.4 255.57 L273.6 255.97 L274.8 256.66 L276 256.8 L277.25 258.06 L278.5 258.51 L279.75 259.01 L281 259.3 L282.17 259.85 L283.33 259.37 L284.5 259.8 L285.75 258.49 L287 257 L288.5 252.42 L290 248 L294 232 L298 215 L301 202 L302.07 199.64 L303.13 198.04 L304.2 195.3 L305.35 193.71 L306.5 193.33 L307.65 191.63 L308.8 190.7 L309.95 190.12 L311.1 189.72 L312.25 189.18 L313.4 188.4 L314.55 187.65 L315.7 188.52 L316.85 189.15 L318 189.5 L319.25 188.42 L320.5 189.17 L321.75 187.95 L323 187.5 L324.3 187.04 L325.6 186.76 L326.9 187.34 L328.2 186.33 L329.5 186.1 L330.66 186.08 L331.82 184.87 L332.98 184.85 L334.14 184.56 L335.3 183.8" stroke="#111111"/>
</g>
<rect x="205.7" y="156.9" width="150.7" height="118.7" fill="none" stroke="#6a6a6a" stroke-width="0.8"/>
<path d="M205.7 275.6v-1.3M205.7 156.9v1.3M230.82 275.6v-1.3M230.82 156.9v1.3M255.93 275.6v-1.3M255.93 156.9v1.3M281.05 275.6v-1.3M281.05 156.9v1.3M306.17 275.6v-1.3M306.17 156.9v1.3M331.28 275.6v-1.3M331.28 156.9v1.3M356.4 275.6v-1.3M356.4 156.9v1.3M205.7 275.6h1.3M356.4 275.6h-1.3M205.7 258.64h1.3M356.4 258.64h-1.3M205.7 241.69h1.3M356.4 241.69h-1.3M205.7 224.73h1.3M356.4 224.73h-1.3M205.7 207.77h1.3M356.4 207.77h-1.3M205.7 190.81h1.3M356.4 190.81h-1.3M205.7 173.86h1.3M356.4 173.86h-1.3M205.7 156.9h1.3M356.4 156.9h-1.3" stroke="#6a6a6a" stroke-width="0.6" fill="none"/>
<g fill="#222" stroke="#222" text-rendering="geometricPrecision"><text transform="translate(206 282.85) scale(0.1043 0.1200)" font-size="46" text-anchor="middle" stroke="#111" stroke-width="2.5">0</text><text transform="translate(231.12 282.85) scale(0.1043 0.1200)" font-size="46" text-anchor="middle" stroke="#111" stroke-width="2.5">20</text><text transform="translate(256.23 282.85) scale(0.1043 0.1200)" font-size="46" text-anchor="middle" stroke="#111" stroke-width="2.5">40</text><text transform="translate(281.35 282.85) scale(0.1043 0.1200)" font-size="46" text-anchor="middle" stroke="#111" stroke-width="2.5">60</text><text transform="translate(306.47 282.85) scale(0.1043 0.1200)" font-size="46" text-anchor="middle" stroke="#111" stroke-width="2.5">80</text><text transform="translate(331.58 282.85) scale(0.1043 0.1200)" font-size="46" text-anchor="middle" stroke="#111" stroke-width="2.5">100</text><text transform="translate(356.7 282.85) scale(0.1043 0.1200)" font-size="46" text-anchor="middle" stroke="#111" stroke-width="2.5">120</text><text transform="translate(203.2 278.1) scale(0.1043 0.1200)" font-size="46" text-anchor="end" stroke="#111" stroke-width="2.5">0</text><text transform="translate(203.2 261.14) scale(0.1043 0.1200)" font-size="46" text-anchor="end" stroke="#111" stroke-width="2.5">0.1</text><text transform="translate(203.2 244.19) scale(0.1043 0.1200)" font-size="46" text-anchor="end" stroke="#111" stroke-width="2.5">0.2</text><text transform="translate(203.2 227.23) scale(0.1043 0.1200)" font-size="46" text-anchor="end" stroke="#111" stroke-width="2.5">0.3</text><text transform="translate(203.2 210.27) scale(0.1043 0.1200)" font-size="46" text-anchor="end" stroke="#111" stroke-width="2.5">0.4</text><text transform="translate(203.2 193.31) scale(0.1043 0.1200)" font-size="46" text-anchor="end" stroke="#111" stroke-width="2.5">0.5</text><text transform="translate(203.2 176.36) scale(0.1043 0.1200)" font-size="46" text-anchor="end" stroke="#111" stroke-width="2.5">0.6</text><text transform="translate(203.2 159.4) scale(0.1043 0.1200)" font-size="46" text-anchor="end" stroke="#111" stroke-width="2.5">0.7</text></g>
<text transform="translate(281.05 289.1) scale(0.1087 0.1087)" font-size="46" text-anchor="middle" stroke="#222" stroke-width="1.8" fill="#222">Spectral bands</text>
<text transform="translate(194.5 216.25) rotate(-90) scale(0.1141 0.1141)" font-size="46" text-anchor="middle" stroke="#222" stroke-width="1.8" fill="#222">Reflectance/Data value</text>
<rect x="209.2" y="160.1" width="39" height="53.7" fill="#fff" stroke="#8a8a8a" stroke-width="0.6"/>
<g fill="#111" stroke="#111" stroke-width="0.7"><path d="M210.5 163.75H224.5" stroke="#ff2020" stroke-width="1.8"/><text transform="translate(225.5 165.4) scale(0.0860 0.1000)" font-size="46">Truth</text><path d="M210.5 169.5H224.5" stroke="#20e020" stroke-width="1.0" stroke-dasharray="3.2 2.2"/><text transform="translate(225.5 171.15) scale(0.0860 0.1000)" font-size="46">Bicubic</text><path d="M210.5 175.25H224.5" stroke="#2020ff" stroke-width="1.8" stroke-dasharray="3.2 2.2"/><text transform="translate(225.5 176.9) scale(0.0860 0.1000)" font-size="46">SRCNN</text><path d="M210.5 181H224.5" stroke="#f2f200" stroke-width="1.8"/><text transform="translate(225.5 182.65) scale(0.0860 0.1000)" font-size="46">3DFCN</text><path d="M210.5 186.75H224.5" stroke="#ff2020" stroke-width="1.4" stroke-dasharray="3.2 2.2"/><text transform="translate(225.5 188.4) scale(0.0860 0.1000)" font-size="46">SSJSR</text><path d="M210.5 192.5H224.5" stroke="#20f0f0" stroke-width="1.4"/><text transform="translate(225.5 194.15) scale(0.0860 0.1000)" font-size="46">ERCSR</text><path d="M210.5 198.25H224.5" stroke="#f020f0" stroke-width="1.4"/><text transform="translate(225.5 199.9) scale(0.0860 0.1000)" font-size="46">HLNACNN</text><path d="M210.5 204H224.5" stroke="#20e020" stroke-width="1.8"/><text transform="translate(225.5 205.65) scale(0.0860 0.1000)" font-size="46">ESRGAN</text><path d="M210.5 209.75H224.5" stroke="#111111" stroke-width="1.0"/><text transform="translate(225.5 211.4) scale(0.0860 0.1000)" font-size="46">Ours</text></g>
<text transform="translate(273.2 298.7) scale(0.1)" font-size="73" letter-spacing="7.5" fill="#1a1a1a" stroke="#1a1a1a" stroke-width="1.5" font-family="'Noto Serif CJK SC',serif">（<tspan font-size="84">e</tspan>）</text>
<clipPath id="c5"><rect x="392.4" y="155.9" width="150.9" height="119"/></clipPath>
<g clip-path="url(#c5)" fill="none" stroke-linejoin="round" stroke-width="1.25">
<path d="M393 258.3 L394.4 249.51 L395.9 247.94 L397.23 247.15 L398.57 246.93 L399.9 246.09 L401.08 245.45 L402.26 245.07 L403.44 244.02 L404.62 242.58 L405.8 242.37 L406.98 241.62 L408.16 240.79 L409.34 240.07 L410.52 239.02 L411.7 238.32 L412.77 237.61 L413.85 237.2 L414.93 236.88 L416 236.61 L417.12 235.94 L418.24 235.85 L419.36 235.7 L420.48 235.05 L421.6 235.1 L422.7 234.86 L423.8 234.95 L424.9 234.15 L426 234.5 L427.35 234.7 L428.7 233.97 L430.05 234.58 L431.4 234.1 L432.55 234.37 L433.7 233.97 L434.85 233.77 L436 234.1 L437.32 234.11 L438.65 233.99 L439.98 234.53 L441.3 234.1 L442.48 234.23 L443.65 233.38 L444.82 233.91 L446 233.6 L447.3 233.2 L448.6 233.21 L449.9 232.7 L451.2 233.1 L452.28 233.19 L453.36 232.83 L454.44 232.71 L455.52 233.27 L456.6 232.9 L457.1 257.7 L458.17 257.18 L459.23 258.6 L460.3 257.7 L460.4 235.4 L461.8 235.4 L462.9 235.12 L464 234.1 L465.15 233.45 L466.3 233.35 L467.45 233.14 L468.6 232.6 L469.75 232.85 L470.9 232.02 L472.05 232.2 L473.2 231.79 L474.35 231.75 L475.5 231.3 L476.62 231.46 L477.75 231.47 L478.88 230.99 L480 231.2 L481.07 231.53 L482.15 231.02 L483.23 230.96 L484.3 231.3 L485 231.3 L485.2 257.7 L486.4 257.64 L487.6 257.58 L488.8 257.84 L490 257.49 L491.2 257.59 L492.4 257.7 L492.8 256.7 L493.2 234.3 L494.57 234.07 L495.93 234.08 L497.3 234 L498.53 233.95 L499.77 234.02 L501 234.3 L502.12 234.37 L503.25 234.49 L504.38 234.25 L505.5 234.8 L506.87 234.94 L508.23 235.99 L509.6 236.4 L510.73 236.36 L511.87 236.82 L513 237.1 L514.13 237.36 L515.27 237.48 L516.4 237.6 L517.6 238.38 L518.8 238.65 L520 239.3 L521.07 240.76 L522.13 240.94 L523.2 242.2 L524.35 243.98 L525.5 245.3 L527.3 248.3" stroke="#ff2020"/>
<path d="M393 258.3 L394.4 249.4 L395.9 247.4 L397.23 246 L398.57 245.66 L399.9 244.4 L401.08 244.06 L402.26 242.51 L403.44 242.02 L404.62 240.85 L405.8 240.25 L406.98 239.89 L408.16 238.71 L409.34 237.49 L410.52 236.96 L411.7 236.04 L412.77 235.89 L413.85 235.51 L414.93 234.92 L416 234.21 L417.12 233.21 L418.24 233.34 L419.36 232.98 L420.48 232.89 L421.6 232.32 L422.7 232.33 L423.8 231.33 L424.9 231.08 L426 230.95 L427.35 230.72 L428.7 230.34 L430.05 230.26 L431.4 229.6 L432.55 229.48 L433.7 229.35 L434.85 228.96 L436 228.8 L437.32 228.94 L438.65 228.37 L439.98 227.8 L441.3 227.69 L442.48 227.18 L443.65 227.02 L444.82 225.92 L446 225.73 L447.3 225.17 L448.6 224.52 L449.9 223.92 L451.2 223.61 L452.28 222.97 L453.36 222.73 L454.44 222.92 L455.52 221.9 L456.6 221.72 L457.1 257.7 L458.17 257.35 L459.23 257.66 L460.3 257.7 L460.4 224.9 L461.8 224.9 L462.9 224.23 L464 223.49 L465.15 222.85 L466.3 222.31 L467.45 222.26 L468.6 221.48 L469.75 221.06 L470.9 220.98 L472.05 220.33 L473.2 220.34 L474.35 220.24 L475.5 219.65 L476.62 219.39 L477.75 219.76 L478.88 219.54 L480 219.47 L481.07 219.31 L482.15 219.22 L483.23 219.06 L484.3 219.5 L485 219.5 L485.2 257.7 L486.4 257.66 L487.6 257.73 L488.8 257.69 L490 257.39 L491.2 257.51 L492.4 257.7 L492.8 256.7 L493.2 220.89 L494.57 220.97 L495.93 220.89 L497.3 220.42 L498.53 220.6 L499.77 220.67 L501 220.57 L502.12 220.68 L503.25 220.6 L504.38 221.09 L505.5 220.82 L506.87 220.92 L508.23 221.24 L509.6 221.79 L510.73 221.64 L511.87 222.14 L513 221.96 L514.13 221.66 L515.27 221.69 L516.4 221.87 L517.6 221.7 L518.8 222.47 L520 222.44 L521.07 223.33 L522.13 223.94 L523.2 224.28 L524.35 224.95 L525.5 226.05 L527.3 228" stroke="#20e020" stroke-dasharray="2.6 2"/>
<path d="M393 258.3 L394.4 249.63 L395.9 248.49 L397.23 248.31 L398.57 247.79 L399.9 247.77 L401.08 246.66 L402.26 246.38 L403.44 245.34 L404.62 244.81 L405.8 244.5 L406.98 243.51 L408.16 242.92 L409.34 241.51 L410.52 241.44 L411.7 240.6 L412.77 240.59 L413.85 239.71 L414.93 240.13 L416 239 L417.12 238.46 L418.24 238.35 L419.36 238 L420.48 237.63 L421.6 237.28 L422.7 236.99 L423.8 236.95 L424.9 236.2 L426 235.8 L427.35 235.5 L428.7 235.34 L430.05 234.49 L431.4 234.32 L432.55 234.15 L433.7 233.62 L434.85 233.25 L436 233.4 L437.32 232.97 L438.65 232.47 L439.98 232.97 L441.3 232.29 L442.48 231.88 L443.65 231.72 L444.82 230.97 L446 230.69 L447.3 230.04 L448.6 230.27 L449.9 228.9 L451.2 228.96 L452.28 228.73 L453.36 228.08 L454.44 228.07 L455.52 227.73 L456.6 227.49 L457.1 257.7 L458.17 257.75 L459.23 257.89 L460.3 257.7 L460.4 228.3 L461.8 228.3 L462.9 227.47 L464 226.89 L465.15 226.24 L466.3 226.14 L467.45 225.68 L468.6 224.88 L469.75 224.57 L470.9 223.83 L472.05 223 L473.2 223.81 L474.35 222.99 L475.5 223.08 L476.62 222.74 L477.75 223.29 L478.88 222.61 L480 222.94 L481.07 222.77 L482.15 222.58 L483.23 222.94 L484.3 223 L485 223 L485.2 257.7 L486.4 258.03 L487.6 257.23 L488.8 258.42 L490 258 L491.2 257.96 L492.4 257.7 L492.8 256.7 L492.9 212.4 L493.2 225.01 L494.57 224.65 L495.93 225.02 L497.3 225.02 L498.53 225.68 L499.77 225.63 L501 225.6 L502.12 225.35 L503.25 225.91 L504.38 226.37 L505.5 226.33 L506.87 226.86 L508.23 226.55 L509.6 227.37 L510.73 226.84 L511.87 227.6 L513 227.61 L514.13 228.1 L515.27 227.45 L516.4 227.51 L517.6 227.53 L518.8 227.5 L520 227.51 L521.07 227.7 L522.13 228.58 L523.2 228.81 L524.35 229.48 L525.5 229.72 L527.3 231" stroke="#2020ff" stroke-dasharray="2.6 2"/>
<path d="M393 258.3 L394.4 249.46 L395.9 247.67 L397.23 246.91 L398.57 246.36 L399.9 245.24 L401.08 244.43 L402.26 243.67 L403.44 242.78 L404.62 241.69 L405.8 241.25 L406.98 240.34 L408.16 239.19 L409.34 238.35 L410.52 237.93 L411.7 237.04 L412.77 236.38 L413.85 236.13 L414.93 235.21 L416 235.21 L417.12 235.07 L418.24 234.68 L419.36 234.31 L420.48 233.87 L421.6 233.56 L422.7 232.95 L423.8 233 L424.9 232.97 L426 232.84 L427.35 233.25 L428.7 232.44 L430.05 232.05 L431.4 232.29 L432.55 232.28 L433.7 232.22 L434.85 231.95 L436 232.17 L437.32 231.84 L438.65 232.28 L439.98 231.52 L441.3 232.02 L442.48 231.56 L443.65 231.96 L444.82 231.36 L446 231.4 L447.3 231.39 L448.6 230.7 L449.9 231.12 L451.2 230.76 L452.28 230.25 L453.36 230.69 L454.44 230.54 L455.52 230.55 L456.6 230.41 L457.1 257.7 L458.17 257.66 L459.23 257.53 L460.3 257.7 L460.4 233.8 L461.8 233.8 L462.9 233.14 L464 232.5 L465.15 232.46 L466.3 231.71 L467.45 231.55 L468.6 231 L469.75 231 L470.9 230.88 L472.05 230.54 L473.2 230.1 L474.35 229.91 L475.5 229.7 L476.62 230.03 L477.75 229.66 L478.88 229.92 L480 229.6 L481.07 229.8 L482.15 229.68 L483.23 229.23 L484.3 229.7 L485 229.7 L485.2 257.7 L486.4 257.84 L487.6 258.01 L488.8 257.59 L490 257.93 L491.2 257.72 L492.4 257.7 L492.8 256.7 L493.2 231.52 L494.57 231.76 L495.93 231.37 L497.3 231.56 L498.53 231.94 L499.77 232.47 L501 232.17 L502.12 232.3 L503.25 232.46 L504.38 232.6 L505.5 233 L506.87 233.63 L508.23 234.41 L509.6 234.6 L510.73 234.9 L511.87 234.97 L513 235.3 L514.13 235.55 L515.27 235.65 L516.4 235.8 L517.6 236.27 L518.8 236.75 L520 237.5 L521.07 238.5 L522.13 239.22 L523.2 240.4 L524.35 241.85 L525.5 243.5 L527.3 246.5" stroke="#f2f200"/>
<path d="M393 258.3 L394.4 249.49 L395.9 247.81 L397.23 246.98 L398.57 246.69 L399.9 245.66 L401.08 244.54 L402.26 243.74 L403.44 243.11 L404.62 242.39 L405.8 241.62 L406.98 240.36 L408.16 240.37 L409.34 238.96 L410.52 238.23 L411.7 237.26 L412.77 236.82 L413.85 236.12 L414.93 235.62 L416 235.32 L417.12 235.33 L418.24 235.02 L419.36 234.15 L420.48 233.68 L421.6 233.47 L422.7 233.03 L423.8 232.72 L424.9 232.87 L426 232.51 L427.35 232.56 L428.7 232.17 L430.05 231.6 L431.4 231.68 L432.55 231.61 L433.7 231.82 L434.85 231 L436 231.3 L437.32 231.33 L438.65 231.3 L439.98 231.2 L441.3 230.87 L442.48 230.93 L443.65 230.28 L444.82 230.25 L446 229.99 L447.3 229.92 L448.6 229.33 L449.9 229.07 L451.2 229.07 L452.28 228.98 L453.36 229.06 L454.44 228.43 L455.52 228.46 L456.6 228.43 L457.1 257.7 L458.17 257.33 L459.23 257.69 L460.3 257.7 L460.4 229.6 L461.8 229.6 L462.9 229.16 L464 228.25 L465.15 227.88 L466.3 227.4 L467.45 226.72 L468.6 226.52 L469.75 226.13 L470.9 225.9 L472.05 225.85 L473.2 225.29 L474.35 225.32 L475.5 224.95 L476.62 224.9 L477.75 224.88 L478.88 225.05 L480 224.77 L481.07 224.52 L482.15 224.56 L483.23 224.56 L484.3 224.8 L485 224.8 L485.2 257.7 L486.4 257.73 L487.6 257.21 L488.8 257.92 L490 257.71 L491.2 257.48 L492.4 257.7 L492.8 256.7 L493.2 229.12 L494.57 229.24 L495.93 228.96 L497.3 229.12 L498.53 229.12 L499.77 229.53 L501 229.7 L502.12 230.01 L503.25 230.19 L504.38 230.04 L505.5 230.47 L506.87 230.52 L508.23 231.34 L509.6 231.81 L510.73 231.69 L511.87 231.86 L513 232.29 L514.13 232.68 L515.27 233.21 L516.4 232.61 L517.6 233.02 L518.8 233.56 L520 234.36 L521.07 235.26 L522.13 236.16 L523.2 237.14 L524.35 237.85 L525.5 238.42 L527.3 240" stroke="#ff2020" stroke-dasharray="2.6 2"/>
<path d="M393 258.3 L394.4 249.34 L395.9 247.13 L397.23 246.25 L398.57 244.44 L399.9 243.56 L401.08 242.95 L402.26 242 L403.44 240.64 L404.62 240.06 L405.8 239.25 L406.98 237.78 L408.16 237.64 L409.34 236.55 L410.52 235.71 L411.7 235.04 L412.77 233.88 L413.85 234.02 L414.93 233.72 L416 233.21 L417.12 232.9 L418.24 232.53 L419.36 232.06 L420.48 231.81 L421.6 231.45 L422.7 231.29 L423.8 230.85 L424.9 230.89 L426 230.43 L427.35 230.23 L428.7 230.01 L430.05 230 L431.4 229.52 L432.55 229.24 L433.7 229.37 L434.85 228.81 L436 229.09 L437.32 228.85 L438.65 229.02 L439.98 228.33 L441.3 228.59 L442.48 228.63 L443.65 228.62 L444.82 227.86 L446 227.64 L447.3 227.28 L448.6 227.39 L449.9 227.15 L451.2 226.65 L452.28 226.27 L453.36 226.42 L454.44 226.17 L455.52 226.13 L456.6 225.94 L457.1 257.7 L458.17 257.41 L459.23 257.46 L460.3 257.7 L460.4 231.1 L461.8 231.1 L462.9 230.42 L464 229.75 L465.15 229.09 L466.3 228.88 L467.45 228.38 L468.6 228.02 L469.75 227.91 L470.9 227.87 L472.05 227.75 L473.2 227.17 L474.35 226.95 L475.5 226.48 L476.62 226.46 L477.75 226.27 L478.88 226.86 L480 226.34 L481.07 226.41 L482.15 226.4 L483.23 226.32 L484.3 226.4 L485 226.4 L485.2 257.7 L486.4 257.62 L487.6 258.03 L488.8 258.26 L490 257.48 L491.2 257.52 L492.4 257.7 L492.8 256.7 L493.2 230.03 L494.57 230.1 L495.93 230.29 L497.3 230.24 L498.53 230.82 L499.77 230.68 L501 231 L502.12 231.05 L503.25 231.56 L504.38 231.52 L505.5 231.97 L506.87 232.87 L508.23 233.1 L509.6 233.35 L510.73 233.04 L511.87 233.13 L513 233.86 L514.13 233.8 L515.27 233.8 L516.4 234.15 L517.6 234.43 L518.8 234.68 L520 235.44 L521.07 236.27 L522.13 237.14 L523.2 237.86 L524.35 238.46 L525.5 239.3 L527.3 241" stroke="#20f0f0"/>
<path d="M393 258.3 L394.4 249.31 L395.9 246.99 L397.23 245.7 L398.57 244.01 L399.9 243.14 L401.08 241.76 L402.26 240.97 L403.44 240.73 L404.62 239.72 L405.8 238.87 L406.98 237.99 L408.16 237.52 L409.34 236.22 L410.52 235.45 L411.7 234.82 L412.77 234.59 L413.85 234.31 L414.93 233.7 L416 233.11 L417.12 232.42 L418.24 232.38 L419.36 232.01 L420.48 231.46 L421.6 231.51 L422.7 231.14 L423.8 231.42 L424.9 231.05 L426 230.68 L427.35 230.21 L428.7 230.22 L430.05 230.12 L431.4 229.98 L432.55 229.78 L433.7 229.64 L434.85 229.74 L436 229.74 L437.32 229.99 L438.65 229.74 L439.98 229.57 L441.3 229.45 L442.48 228.81 L443.65 229.1 L444.82 228.92 L446 228.69 L447.3 228.18 L448.6 228.07 L449.9 228.12 L451.2 227.91 L452.28 227.32 L453.36 227.86 L454.44 227.59 L455.52 227.39 L456.6 227.42 L457.1 257.7 L458.17 257.17 L459.23 257.93 L460.3 257.7 L460.4 233.1 L461.8 233.1 L462.9 232.2 L464 231.77 L465.15 231.37 L466.3 230.91 L467.45 231.01 L468.6 230.13 L469.75 229.55 L470.9 229.95 L472.05 229.58 L473.2 229.59 L474.35 228.85 L475.5 228.79 L476.62 228.79 L477.75 228.7 L478.88 228.74 L480 228.85 L481.07 228.69 L482.15 229.09 L483.23 228.8 L484.3 229.1 L485 229.1 L485.2 257.7 L486.4 258.05 L487.6 257.2 L488.8 258.19 L490 257.85 L491.2 257.32 L492.4 257.7 L492.8 256.7 L493.2 230.53 L494.57 230.14 L495.93 231.03 L497.3 230.74 L498.53 230.87 L499.77 231.25 L501 231.5 L502.12 231.77 L503.25 232.03 L504.38 232.1 L505.5 232.46 L506.87 232.8 L508.23 233.62 L509.6 233.77 L510.73 233.96 L511.87 233.88 L513 234.22 L514.13 234.28 L515.27 234.5 L516.4 234.55 L517.6 235.37 L518.8 235.81 L520 236.71 L521.07 237.98 L522.13 238.83 L523.2 240 L524.35 241.42 L525.5 243.16 L527.3 246.2" stroke="#f020f0"/>
<path d="M393 258.3 L394.4 249.37 L395.9 247.26 L397.23 246.28 L398.57 244.63 L399.9 243.98 L401.08 243.19 L402.26 242.4 L403.44 241.64 L404.62 240.54 L405.8 239.75 L406.98 238.54 L408.16 238.26 L409.34 237.32 L410.52 236.24 L411.7 235.54 L412.77 234.93 L413.85 234.74 L414.93 233.97 L416 233.71 L417.12 233.02 L418.24 232.91 L419.36 232.7 L420.48 232.37 L421.6 231.94 L422.7 231.64 L423.8 231.57 L424.9 231.07 L426 230.9 L427.35 230.78 L428.7 230.47 L430.05 230.11 L431.4 229.96 L432.55 229.91 L433.7 229.47 L434.85 229.42 L436 229.5 L437.32 229.52 L438.65 229.28 L439.98 229.01 L441.3 228.87 L442.48 228.41 L443.65 228.3 L444.82 227.6 L446 227.54 L447.3 227.24 L448.6 226.56 L449.9 226.7 L451.2 226.12 L452.28 226.04 L453.36 225.8 L454.44 225.22 L455.52 225.39 L456.6 224.97 L457.1 257.7 L458.17 257.72 L459.23 257.29 L460.3 257.7 L460.4 225.9 L461.8 225.9 L462.9 225.39 L464 224.49 L465.15 224.1 L466.3 223.11 L467.45 223.23 L468.6 222.48 L469.75 222.27 L470.9 221.84 L472.05 221.44 L473.2 221.57 L474.35 220.78 L475.5 220.65 L476.62 220.38 L477.75 220.62 L478.88 220.77 L480 220.47 L481.07 220.57 L482.15 220.55 L483.23 220.5 L484.3 220.5 L485 220.5 L485 150 L485.1 150 L485.2 257.7 L486.4 257.75 L487.6 258.17 L488.8 257.31 L490 258.23 L491.2 257.82 L492.4 257.7 L492.8 256.7 L492.9 216.5 L493.2 221.89 L494.57 221.82 L495.93 221.73 L497.3 221.46 L498.53 221.35 L499.77 221.5 L501 221.63 L502.12 221.75 L503.25 221.96 L504.38 221.56 L505.5 221.92 L506.87 222.41 L508.23 222.83 L509.6 222.85 L510.73 223.18 L511.87 222.71 L513 222.99 L514.13 222.88 L515.27 222.99 L516.4 222.87 L517.6 223.12 L518.8 223.56 L520 223.44 L521.07 223.8 L522.13 224.87 L523.2 225.31 L524.35 226.43 L525.5 227.34 L527.3 229.5" stroke="#20e020"/>
<path d="M393 258.3 L394.4 249.4 L395.9 247.4 L397.23 246.64 L398.57 245.31 L399.9 244.4 L401.08 243.67 L402.26 242.9 L403.44 241.72 L404.62 241.35 L405.8 240.5 L406.98 239.5 L408.16 238.7 L409.34 238.46 L410.52 237.78 L411.7 236.6 L412.77 236.55 L413.85 236.32 L414.93 235.4 L416 235 L417.12 234.52 L418.24 234.51 L419.36 234.23 L420.48 234.17 L421.6 233.6 L422.7 233.76 L423.8 233.89 L424.9 233.27 L426 233 L427.35 233.09 L428.7 232.65 L430.05 232.93 L431.4 232.6 L432.55 232.89 L433.7 232.16 L434.85 232.41 L436 232.6 L437.32 232.46 L438.65 232.99 L439.98 232.56 L441.3 232.6 L442.48 232.62 L443.65 232.34 L444.82 232.45 L446 232.1 L447.3 232.01 L448.6 231.74 L449.9 231.66 L451.2 231.6 L452.28 231.47 L453.36 231.55 L454.44 231.51 L455.52 231.81 L456.6 231.4 L457.1 257.7 L458.17 257.62 L459.23 257.76 L460.3 257.7 L460.3 150 L460.4 150 L460.4 234.6 L461.8 234.6 L462.9 234.35 L464 233.3 L465.15 232.81 L466.3 232.66 L467.45 232.05 L468.6 231.8 L469.75 231.25 L470.9 230.99 L472.05 231.23 L473.2 230.58 L474.35 231.17 L475.5 230.5 L476.62 230.72 L477.75 230.11 L478.88 230.6 L480 230.4 L481.07 230.54 L482.15 230.4 L483.23 230.7 L484.3 230.5 L485 230.5 L485 150 L485.1 150 L485.2 257.7 L486.4 257.83 L487.6 258.02 L488.8 258.17 L490 257.51 L491.2 257.15 L492.4 257.7 L492.8 256.7 L493.2 233.5 L494.57 233.14 L495.93 233.12 L497.3 233.2 L498.53 233.08 L499.77 232.88 L501 233.5 L502.12 233.44 L503.25 233.64 L504.38 233.98 L505.5 234 L506.87 234.65 L508.23 234.63 L509.6 235.6 L510.73 236.19 L511.87 235.74 L513 236.3 L514.13 236.64 L515.27 236.68 L516.4 236.8 L517.6 237.53 L518.8 238.3 L520 238.5 L521.07 239.5 L522.13 240.21 L523.2 241.4 L524.35 242.75 L525.5 244.5 L527.3 247.5" stroke="#111111"/>
</g>
<rect x="392.4" y="155.9" width="150.9" height="119" fill="none" stroke="#6a6a6a" stroke-width="0.8"/>
<path d="M392.4 274.9v-1.3M392.4 155.9v1.3M422.58 274.9v-1.3M422.58 155.9v1.3M452.76 274.9v-1.3M452.76 155.9v1.3M482.94 274.9v-1.3M482.94 155.9v1.3M513.12 274.9v-1.3M513.12 155.9v1.3M543.3 274.9v-1.3M543.3 155.9v1.3M392.4 274.9h1.3M543.3 274.9h-1.3M392.4 257.9h1.3M543.3 257.9h-1.3M392.4 240.9h1.3M543.3 240.9h-1.3M392.4 223.9h1.3M543.3 223.9h-1.3M392.4 206.9h1.3M543.3 206.9h-1.3M392.4 189.9h1.3M543.3 189.9h-1.3M392.4 172.9h1.3M543.3 172.9h-1.3M392.4 155.9h1.3M543.3 155.9h-1.3" stroke="#6a6a6a" stroke-width="0.6" fill="none"/>
<g fill="#222" stroke="#222" text-rendering="geometricPrecision"><text transform="translate(392.7 281.86) scale(0.0967 0.1112)" font-size="46" text-anchor="middle" stroke="#111" stroke-width="2.5">0</text><text transform="translate(422.88 281.86) scale(0.0967 0.1112)" font-size="46" text-anchor="middle" stroke="#111" stroke-width="2.5">50</text><text transform="translate(453.06 281.86) scale(0.0967 0.1112)" font-size="46" text-anchor="middle" stroke="#111" stroke-width="2.5">100</text><text transform="translate(483.24 281.86) scale(0.0967 0.1112)" font-size="46" text-anchor="middle" stroke="#111" stroke-width="2.5">150</text><text transform="translate(513.42 281.86) scale(0.0967 0.1112)" font-size="46" text-anchor="middle" stroke="#111" stroke-width="2.5">200</text><text transform="translate(543.6 281.86) scale(0.0967 0.1112)" font-size="46" text-anchor="middle" stroke="#111" stroke-width="2.5">250</text><text transform="translate(389.9 276.8) scale(0.0967 0.1112)" font-size="46" text-anchor="end" stroke="#111" stroke-width="2.5">0</text><text transform="translate(389.9 259.8) scale(0.0967 0.1112)" font-size="46" text-anchor="end" stroke="#111" stroke-width="2.5">0.1</text><text transform="translate(389.9 242.8) scale(0.0967 0.1112)" font-size="46" text-anchor="end" stroke="#111" stroke-width="2.5">0.2</text><text transform="translate(389.9 225.8) scale(0.0967 0.1112)" font-size="46" text-anchor="end" stroke="#111" stroke-width="2.5">0.3</text><text transform="translate(389.9 208.8) scale(0.0967 0.1112)" font-size="46" text-anchor="end" stroke="#111" stroke-width="2.5">0.4</text><text transform="translate(389.9 191.8) scale(0.0967 0.1112)" font-size="46" text-anchor="end" stroke="#111" stroke-width="2.5">0.5</text><text transform="translate(389.9 174.8) scale(0.0967 0.1112)" font-size="46" text-anchor="end" stroke="#111" stroke-width="2.5">0.6</text><text transform="translate(389.9 157.8) scale(0.0967 0.1112)" font-size="46" text-anchor="end" stroke="#111" stroke-width="2.5">0.7</text></g>
<text transform="translate(467.85 288.4) scale(0.1087 0.1087)" font-size="46" text-anchor="middle" stroke="#222" stroke-width="1.8" fill="#222">Spectral bands</text>
<text transform="translate(382.4 215.4) rotate(-90) scale(0.1185 0.1185)" font-size="46" text-anchor="middle" stroke="#222" stroke-width="1.8" fill="#222">Reflectance/Data value</text>
<rect x="394.5" y="158" width="38.75" height="53.75" fill="#fff" stroke="#8a8a8a" stroke-width="0.6"/>
<g fill="#111" stroke="#111" stroke-width="0.7"><path d="M396.25 162.25H409.5" stroke="#ff2020" stroke-width="1.0"/><text transform="translate(411.25 163.9) scale(0.0900 0.1000)" font-size="46">Truth</text><path d="M396.25 167.97H409.5" stroke="#20e020" stroke-width="1.9" stroke-dasharray="3.5 2"/><text transform="translate(411.25 169.62) scale(0.0900 0.1000)" font-size="46">Bicubic</text><path d="M396.25 173.69H409.5" stroke="#2020ff" stroke-width="1.4" stroke-dasharray="3.5 2"/><text transform="translate(411.25 175.34) scale(0.0900 0.1000)" font-size="46">SRCNN</text><path d="M396.25 179.41H409.5" stroke="#f2f200" stroke-width="1.4"/><text transform="translate(411.25 181.06) scale(0.0900 0.1000)" font-size="46">3DFCN</text><path d="M396.25 185.13H409.5" stroke="#ff2020" stroke-width="1.4" stroke-dasharray="3.5 2"/><text transform="translate(411.25 186.78) scale(0.0900 0.1000)" font-size="46">SSJSR</text><path d="M396.25 190.85H409.5" stroke="#20f0f0" stroke-width="1.9"/><text transform="translate(411.25 192.5) scale(0.0900 0.1000)" font-size="46">ERCSR</text><path d="M396.25 196.57H409.5" stroke="#f020f0" stroke-width="1.4"/><text transform="translate(411.25 198.22) scale(0.0900 0.1000)" font-size="46">HLNACNN</text><path d="M396.25 202.29H409.5" stroke="#20e020" stroke-width="1.4"/><text transform="translate(411.25 203.94) scale(0.0900 0.1000)" font-size="46">ESRGAN</text><path d="M396.25 208.01H409.5" stroke="#111111" stroke-width="1.9"/><text transform="translate(411.25 209.66) scale(0.0900 0.1000)" font-size="46">Ours</text></g>
<text transform="translate(464.3 298.7) scale(0.1)" font-size="73" letter-spacing="7.5" fill="#1a1a1a" stroke="#1a1a1a" stroke-width="1.5" font-family="'Noto Serif CJK SC',serif">（<tspan font-size="84">f</tspan>）</text>
</svg>
</body></html>
